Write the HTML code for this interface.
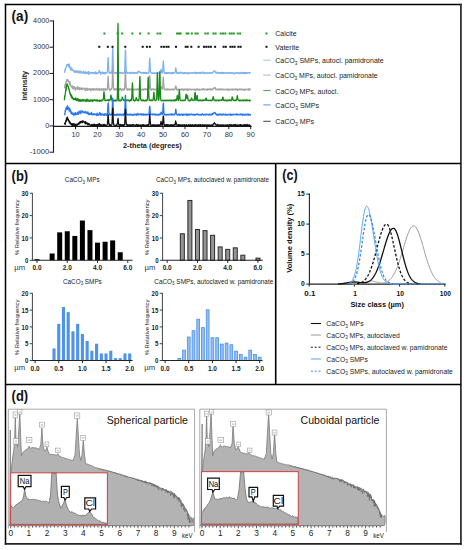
<!DOCTYPE html>
<html><head><meta charset="utf-8"><style>
html,body{margin:0;padding:0;background:#fff;width:470px;height:550px;overflow:hidden}
svg{display:block}
text{font-family:"Liberation Sans", sans-serif}
</style></head><body>
<svg width="470" height="550" viewBox="0 0 470 550">
<rect width="470" height="550" fill="#fff"/>
<line x1="4.8" y1="4.5" x2="461.8" y2="4.5" stroke="#000" stroke-width="1.4"/>
<line x1="5.5" y1="3.8" x2="5.5" y2="544.8" stroke="#000" stroke-width="1.5"/>
<line x1="460.9" y1="3.8" x2="460.9" y2="544.8" stroke="#333" stroke-width="1.8"/>
<line x1="4.8" y1="543.9" x2="461.8" y2="543.9" stroke="#222" stroke-width="1.8"/>
<line x1="5" y1="163.45" x2="461" y2="163.45" stroke="#000" stroke-width="1.4"/>
<line x1="5" y1="384.5" x2="461" y2="384.5" stroke="#000" stroke-width="1.5"/>
<line x1="275.7" y1="163" x2="275.7" y2="385" stroke="#000" stroke-width="1.6"/>
<text x="11.60" y="20.70" font-size="14.5" text-anchor="start" fill="#111" font-weight="bold" textLength="16.60" lengthAdjust="spacingAndGlyphs" >(a)</text>
<text x="11.60" y="180.80" font-size="14.5" text-anchor="start" fill="#111" font-weight="bold" textLength="16.60" lengthAdjust="spacingAndGlyphs" >(b)</text>
<text x="282.20" y="180.30" font-size="14.5" text-anchor="start" fill="#111" font-weight="bold" textLength="15.40" lengthAdjust="spacingAndGlyphs" >(c)</text>
<text x="11.60" y="400.60" font-size="14.5" text-anchor="start" fill="#111" font-weight="bold" textLength="16.60" lengthAdjust="spacingAndGlyphs" >(d)</text>
<line x1="53.5" y1="20.5" x2="53.5" y2="152.6" stroke="#1a1a1a" stroke-width="1.1"/>
<line x1="49.6" y1="20.95" x2="53.5" y2="20.95" stroke="#1a1a1a" stroke-width="1"/>
<text x="49.30" y="22.75" font-size="7.2" text-anchor="end" fill="#333" textLength="16.20" lengthAdjust="spacingAndGlyphs" >4000</text>
<line x1="49.6" y1="47.20" x2="53.5" y2="47.20" stroke="#1a1a1a" stroke-width="1"/>
<text x="49.30" y="49.00" font-size="7.2" text-anchor="end" fill="#333" textLength="16.20" lengthAdjust="spacingAndGlyphs" >3000</text>
<line x1="49.6" y1="73.45" x2="53.5" y2="73.45" stroke="#1a1a1a" stroke-width="1"/>
<text x="49.30" y="75.25" font-size="7.2" text-anchor="end" fill="#333" textLength="16.20" lengthAdjust="spacingAndGlyphs" >2000</text>
<line x1="49.6" y1="99.70" x2="53.5" y2="99.70" stroke="#1a1a1a" stroke-width="1"/>
<text x="49.30" y="101.50" font-size="7.2" text-anchor="end" fill="#333" textLength="16.20" lengthAdjust="spacingAndGlyphs" >1000</text>
<line x1="49.6" y1="125.95" x2="53.5" y2="125.95" stroke="#1a1a1a" stroke-width="1"/>
<text x="49.30" y="127.75" font-size="7.2" text-anchor="end" fill="#333" textLength="4.10" lengthAdjust="spacingAndGlyphs" >0</text>
<line x1="49.6" y1="152.20" x2="53.5" y2="152.20" stroke="#1a1a1a" stroke-width="1"/>
<text x="49.30" y="154.00" font-size="7.2" text-anchor="end" fill="#333" textLength="19.50" lengthAdjust="spacingAndGlyphs" >-1000</text>
<line x1="53.5" y1="126.3" x2="251.6" y2="126.3" stroke="#1a1a1a" stroke-width="1.3"/>
<line x1="75.50" y1="125.9" x2="75.50" y2="129.2" stroke="#1a1a1a" stroke-width="1"/>
<text x="75.50" y="136.80" font-size="7.2" text-anchor="middle" fill="#333" textLength="8.20" lengthAdjust="spacingAndGlyphs" >10</text>
<line x1="97.40" y1="125.9" x2="97.40" y2="129.2" stroke="#1a1a1a" stroke-width="1"/>
<text x="97.40" y="136.80" font-size="7.2" text-anchor="middle" fill="#333" textLength="8.20" lengthAdjust="spacingAndGlyphs" >20</text>
<line x1="119.30" y1="125.9" x2="119.30" y2="129.2" stroke="#1a1a1a" stroke-width="1"/>
<text x="119.30" y="136.80" font-size="7.2" text-anchor="middle" fill="#333" textLength="8.20" lengthAdjust="spacingAndGlyphs" >30</text>
<line x1="141.20" y1="125.9" x2="141.20" y2="129.2" stroke="#1a1a1a" stroke-width="1"/>
<text x="141.20" y="136.80" font-size="7.2" text-anchor="middle" fill="#333" textLength="8.20" lengthAdjust="spacingAndGlyphs" >40</text>
<line x1="163.10" y1="125.9" x2="163.10" y2="129.2" stroke="#1a1a1a" stroke-width="1"/>
<text x="163.10" y="136.80" font-size="7.2" text-anchor="middle" fill="#333" textLength="8.20" lengthAdjust="spacingAndGlyphs" >50</text>
<line x1="185.00" y1="125.9" x2="185.00" y2="129.2" stroke="#1a1a1a" stroke-width="1"/>
<text x="185.00" y="136.80" font-size="7.2" text-anchor="middle" fill="#333" textLength="8.20" lengthAdjust="spacingAndGlyphs" >60</text>
<line x1="206.90" y1="125.9" x2="206.90" y2="129.2" stroke="#1a1a1a" stroke-width="1"/>
<text x="206.90" y="136.80" font-size="7.2" text-anchor="middle" fill="#333" textLength="8.20" lengthAdjust="spacingAndGlyphs" >70</text>
<line x1="228.80" y1="125.9" x2="228.80" y2="129.2" stroke="#1a1a1a" stroke-width="1"/>
<text x="228.80" y="136.80" font-size="7.2" text-anchor="middle" fill="#333" textLength="8.20" lengthAdjust="spacingAndGlyphs" >80</text>
<line x1="250.70" y1="125.9" x2="250.70" y2="129.2" stroke="#1a1a1a" stroke-width="1"/>
<text x="250.70" y="136.80" font-size="7.2" text-anchor="middle" fill="#333" textLength="8.20" lengthAdjust="spacingAndGlyphs" >90</text>
<text x="27.40" y="85.60" font-size="7.3" text-anchor="middle" fill="#222" font-weight="bold" textLength="29.40" lengthAdjust="spacingAndGlyphs" transform="rotate(-90 27.40 85.60)" >Intensity</text>
<text x="152.40" y="147.70" font-size="7.3" text-anchor="middle" fill="#222" font-weight="bold" textLength="58.80" lengthAdjust="spacingAndGlyphs" >2-theta (degrees)</text>
<polyline points="64.44,72.24 64.64,72.35 64.83,71.44 65.03,69.37 65.23,70.85 65.43,69.73 65.62,68.07 65.82,68.34 66.02,67.38 66.21,66.62 66.41,65.79 66.61,65.81 66.81,64.38 67.00,64.82 67.20,64.54 67.40,65.53 67.59,65.09 67.79,64.88 67.99,64.56 68.19,65.15 68.38,65.53 68.58,65.46 68.78,67.00 68.97,66.95 69.17,64.01 69.37,64.95 69.57,66.64 69.76,66.68 69.96,67.47 70.16,67.73 70.35,69.56 70.55,67.15 70.75,68.01 70.94,70.23 71.14,69.34 71.34,69.59 71.54,68.88 71.73,68.19 71.93,69.85 72.13,70.01 72.32,69.14 72.52,69.75 72.72,70.40 72.92,69.87 73.11,70.67 73.31,70.95 73.51,71.03 73.70,70.73 73.90,71.66 74.10,71.98 74.30,71.63 74.49,70.85 74.69,72.07 74.89,71.22 75.08,72.29 75.28,70.91 75.48,72.40 75.68,71.76 75.87,70.91 76.07,71.62 76.27,71.91 76.46,72.09 76.66,71.22 76.86,71.16 77.05,72.10 77.25,71.65 77.45,72.16 77.65,72.54 77.84,70.89 78.04,72.22 78.24,72.90 78.43,71.88 78.63,71.54 78.83,72.62 79.03,72.30 79.22,72.74 79.42,71.93 79.62,71.19 79.81,72.12 80.01,71.91 80.21,72.73 80.41,72.37 80.60,71.20 80.80,71.50 81.00,72.86 81.19,72.75 81.39,71.92 81.59,72.35 81.79,72.65 81.98,72.68 82.18,72.95 82.38,72.58 82.57,72.38 82.77,72.30 82.97,73.13 83.16,71.11 83.36,72.43 83.56,72.55 83.76,71.68 83.95,72.76 84.15,72.19 84.35,73.11 84.54,72.54 84.74,73.03 84.94,73.37 85.14,72.89 85.33,72.16 85.53,71.80 85.73,73.73 85.92,72.65 86.12,72.33 86.32,72.83 86.52,72.64 86.71,73.25 86.91,72.80 87.11,72.80 87.30,72.40 87.50,73.08 87.70,72.24 87.90,73.20 88.09,73.69 88.29,72.00 88.49,71.49 88.68,73.21 88.88,74.27 89.08,72.33 89.28,72.21 89.47,73.22 89.67,72.45 89.87,72.64 90.06,72.73 90.26,73.20 90.46,72.71 90.65,73.08 90.85,72.84 91.05,72.49 91.25,72.78 91.44,72.45 91.64,72.95 91.84,72.37 92.03,72.39 92.23,73.71 92.43,72.94 92.63,72.94 92.82,73.23 93.02,72.76 93.22,72.86 93.41,73.19 93.61,73.12 93.81,72.40 94.01,73.40 94.20,72.69 94.40,72.46 94.60,72.54 94.79,72.79 94.99,73.79 95.19,72.41 95.39,73.07 95.58,71.95 95.78,72.99 95.98,73.43 96.17,72.88 96.37,72.69 96.57,73.11 96.76,73.33 96.96,73.31 97.16,73.94 97.36,73.10 97.55,72.72 97.75,72.94 97.95,72.96 98.14,73.04 98.34,72.96 98.54,72.96 98.74,71.83 98.93,72.47 99.13,71.15 99.33,70.47 99.52,71.47 99.72,72.39 99.92,72.63 100.12,72.86 100.31,72.52 100.51,74.29 100.71,73.40 100.90,72.49 101.10,72.65 101.30,73.04 101.50,72.31 101.69,73.07 101.89,72.80 102.09,73.54 102.28,73.42 102.48,71.81 102.68,73.02 102.87,72.29 103.07,73.48 103.27,73.07 103.47,73.24 103.66,72.54 103.86,73.79 104.06,73.87 104.25,72.54 104.45,73.16 104.65,72.71 104.85,72.99 105.04,72.46 105.24,73.79 105.44,72.59 105.63,72.87 105.83,73.21 106.03,72.73 106.23,72.90 106.42,72.76 106.62,72.94 106.82,72.50 107.01,72.72 107.21,72.42 107.41,71.01 107.61,67.99 107.80,62.89 108.00,58.86 108.20,57.64 108.39,61.24 108.59,66.18 108.79,70.11 108.99,71.69 109.18,73.04 109.38,72.51 109.58,72.70 109.77,73.14 109.97,73.16 110.17,72.84 110.36,72.19 110.56,73.17 110.76,73.10 110.96,72.44 111.15,73.30 111.35,72.71 111.55,72.47 111.74,72.56 111.94,70.94 112.14,67.06 112.34,59.10 112.53,52.36 112.73,47.77 112.93,51.06 113.12,59.96 113.32,66.84 113.52,71.14 113.72,72.39 113.91,72.89 114.11,73.08 114.31,72.71 114.50,73.26 114.70,72.82 114.90,72.67 115.10,73.03 115.29,73.17 115.49,72.91 115.69,72.67 115.88,73.23 116.08,72.34 116.28,72.61 116.47,73.01 116.67,72.49 116.87,73.01 117.07,72.98 117.26,73.33 117.46,72.66 117.66,72.77 117.85,73.12 118.05,72.09 118.25,74.14 118.45,72.74 118.64,72.73 118.84,73.32 119.04,72.99 119.23,72.35 119.43,73.23 119.63,73.31 119.83,72.84 120.02,72.90 120.22,73.18 120.42,72.67 120.61,73.16 120.81,73.07 121.01,72.76 121.21,72.50 121.40,72.92 121.60,72.69 121.80,73.36 121.99,73.05 122.19,73.28 122.39,73.05 122.58,73.09 122.78,72.72 122.98,73.24 123.18,73.63 123.37,72.89 123.57,72.79 123.77,72.94 123.96,72.83 124.16,72.72 124.36,72.83 124.56,71.84 124.75,69.83 124.95,63.67 125.15,55.86 125.34,50.07 125.54,50.04 125.74,57.13 125.94,64.24 126.13,69.47 126.33,71.97 126.53,72.78 126.72,72.49 126.92,72.99 127.12,72.43 127.32,73.48 127.51,72.97 127.71,72.78 127.91,72.69 128.10,72.87 128.30,72.92 128.50,72.65 128.70,72.69 128.89,72.94 129.09,72.82 129.29,73.32 129.48,73.38 129.68,73.01 129.88,73.16 130.07,72.55 130.27,73.21 130.47,72.99 130.67,73.16 130.86,73.54 131.06,72.24 131.26,73.09 131.45,72.63 131.65,73.20 131.85,72.56 132.05,72.84 132.24,73.07 132.44,73.20 132.64,73.02 132.83,72.74 133.03,72.82 133.23,73.29 133.43,73.00 133.62,72.45 133.82,73.28 134.02,73.14 134.21,73.29 134.41,72.89 134.61,73.27 134.81,72.65 135.00,73.19 135.20,72.84 135.40,73.22 135.59,73.33 135.79,72.76 135.99,72.98 136.18,73.00 136.38,73.37 136.58,73.20 136.78,72.55 136.97,73.05 137.17,73.08 137.37,73.43 137.56,72.07 137.76,72.28 137.96,72.70 138.16,71.63 138.35,71.48 138.55,71.86 138.75,71.89 138.94,71.29 139.14,71.69 139.34,71.64 139.54,72.23 139.73,71.93 139.93,72.45 140.13,72.05 140.32,72.45 140.52,72.63 140.72,73.14 140.92,73.04 141.11,72.68 141.31,73.17 141.51,73.22 141.70,72.95 141.90,72.91 142.10,72.94 142.29,72.46 142.49,73.06 142.69,73.07 142.89,72.73 143.08,73.23 143.28,72.57 143.48,72.83 143.67,72.85 143.87,73.62 144.07,72.50 144.27,73.18 144.46,73.29 144.66,73.12 144.86,73.37 145.05,72.69 145.25,72.29 145.45,73.24 145.65,72.63 145.84,72.90 146.04,72.63 146.24,73.33 146.43,73.27 146.63,72.78 146.83,73.28 147.03,73.04 147.22,72.96 147.42,73.02 147.62,72.94 147.81,73.19 148.01,73.10 148.21,72.89 148.41,73.30 148.60,72.74 148.80,72.68 149.00,71.56 149.19,69.03 149.39,63.75 149.59,59.90 149.78,58.17 149.98,61.10 150.18,65.93 150.38,70.28 150.57,72.12 150.77,72.46 150.97,72.62 151.16,72.83 151.36,72.79 151.56,73.33 151.76,73.42 151.95,73.26 152.15,73.11 152.35,72.87 152.54,73.02 152.74,73.27 152.94,73.65 153.14,73.28 153.33,72.91 153.53,73.01 153.73,72.85 153.92,72.76 154.12,72.94 154.32,73.06 154.52,73.55 154.71,73.02 154.91,73.41 155.11,73.53 155.30,73.02 155.50,73.48 155.70,73.22 155.89,72.87 156.09,73.08 156.29,73.01 156.49,72.93 156.68,72.94 156.88,73.04 157.08,73.13 157.27,72.73 157.47,73.00 157.67,72.54 157.87,73.08 158.06,73.19 158.26,73.05 158.46,73.09 158.65,73.18 158.85,72.80 159.05,72.93 159.25,73.15 159.44,73.30 159.64,73.12 159.84,73.76 160.03,72.95 160.23,73.17 160.43,72.90 160.63,71.71 160.82,70.37 161.02,69.32 161.22,69.66 161.41,70.81 161.61,71.72 161.81,72.51 162.00,72.72 162.20,73.06 162.40,71.98 162.60,71.64 162.79,69.11 162.99,64.86 163.19,62.46 163.38,60.80 163.58,63.62 163.78,67.57 163.98,71.26 164.17,72.12 164.37,73.06 164.57,73.15 164.76,73.07 164.96,72.61 165.16,72.82 165.36,73.49 165.55,72.62 165.75,72.76 165.95,72.95 166.14,73.24 166.34,73.07 166.54,73.22 166.74,72.69 166.93,73.28 167.13,73.17 167.33,72.53 167.52,73.45 167.72,73.67 167.92,72.77 168.12,73.02 168.31,73.41 168.51,72.57 168.71,72.42 168.90,72.62 169.10,72.83 169.30,72.83 169.49,73.18 169.69,73.08 169.89,72.64 170.09,73.17 170.28,73.55 170.48,73.35 170.68,73.29 170.87,73.01 171.07,73.29 171.27,72.72 171.47,73.22 171.66,72.97 171.86,73.33 172.06,73.14 172.25,72.68 172.45,73.04 172.65,73.35 172.85,72.67 173.04,72.84 173.24,72.78 173.44,72.57 173.63,73.28 173.83,73.38 174.03,73.23 174.23,73.07 174.42,72.98 174.62,73.05 174.82,72.69 175.01,72.86 175.21,72.10 175.41,70.61 175.60,68.58 175.80,68.02 176.00,68.68 176.20,70.86 176.39,71.85 176.59,72.06 176.79,73.02 176.98,73.53 177.18,73.20 177.38,73.25 177.58,73.01 177.77,72.43 177.97,72.48 178.17,72.64 178.36,72.96 178.56,73.09 178.76,73.20 178.96,72.90 179.15,73.28 179.35,72.92 179.55,72.80 179.74,73.25 179.94,72.74 180.14,72.21 180.34,72.69 180.53,73.03 180.73,72.11 180.93,72.90 181.12,72.90 181.32,72.59 181.52,72.57 181.71,72.87 181.91,72.84 182.11,73.36 182.31,73.11 182.50,72.55 182.70,72.75 182.90,73.20 183.09,73.55 183.29,73.11 183.49,73.09 183.69,73.53 183.88,72.99 184.08,72.91 184.28,72.59 184.47,72.85 184.67,73.63 184.87,72.59 185.07,73.00 185.26,72.60 185.46,73.04 185.66,73.25 185.85,72.93 186.05,73.21 186.25,73.21 186.45,73.13 186.64,73.49 186.84,73.22 187.04,72.91 187.23,72.81 187.43,72.76 187.63,73.14 187.83,72.91 188.02,73.78 188.22,73.53 188.42,72.94 188.61,72.91 188.81,73.48 189.01,72.46 189.20,72.87 189.40,73.27 189.60,72.74 189.80,72.86 189.99,72.90 190.19,73.19 190.39,73.04 190.58,73.11 190.78,73.17 190.98,73.01 191.18,73.32 191.37,72.79 191.57,72.59 191.77,72.49 191.96,72.54 192.16,72.84 192.36,73.29 192.56,73.05 192.75,72.83 192.95,72.69 193.15,72.85 193.34,72.88 193.54,72.84 193.74,72.59 193.94,72.86 194.13,73.29 194.33,72.38 194.53,72.93 194.72,72.40 194.92,73.05 195.12,72.79 195.31,72.41 195.51,73.03 195.71,73.52 195.91,73.03 196.10,73.33 196.30,72.98 196.50,72.39 196.69,73.14 196.89,72.88 197.09,72.58 197.29,73.22 197.48,73.08 197.68,72.85 197.88,73.25 198.07,72.75 198.27,73.18 198.47,72.73 198.67,73.15 198.86,72.69 199.06,73.42 199.26,73.07 199.45,73.41 199.65,72.77 199.85,72.86 200.05,73.24 200.24,72.22 200.44,72.70 200.64,73.29 200.83,73.13 201.03,73.28 201.23,72.91 201.42,73.16 201.62,72.79 201.82,72.61 202.02,72.52 202.21,72.84 202.41,72.84 202.61,72.82 202.80,71.99 203.00,72.43 203.20,72.85 203.40,73.08 203.59,72.84 203.79,72.75 203.99,72.35 204.18,73.57 204.38,72.69 204.58,73.48 204.78,73.44 204.97,73.08 205.17,72.84 205.37,73.04 205.56,72.67 205.76,73.07 205.96,73.00 206.16,73.15 206.35,73.27 206.55,73.49 206.75,72.89 206.94,73.30 207.14,72.78 207.34,72.75 207.54,72.83 207.73,72.72 207.93,73.28 208.13,73.26 208.32,73.36 208.52,72.99 208.72,73.08 208.91,72.84 209.11,72.67 209.31,73.13 209.51,73.08 209.70,72.69 209.90,73.17 210.10,72.51 210.29,72.95 210.49,72.82 210.69,72.85 210.89,72.69 211.08,73.27 211.28,73.16 211.48,73.32 211.67,73.02 211.87,72.60 212.07,72.82 212.27,72.54 212.46,72.93 212.66,73.02 212.86,72.62 213.05,72.15 213.25,71.98 213.45,71.87 213.65,71.14 213.84,71.34 214.04,71.17 214.24,70.86 214.43,70.89 214.63,71.15 214.83,71.04 215.02,71.28 215.22,72.00 215.42,72.11 215.62,72.77 215.81,72.22 216.01,72.16 216.21,73.05 216.40,73.14 216.60,72.71 216.80,72.54 217.00,72.96 217.19,72.49 217.39,72.89 217.59,72.37 217.78,72.92 217.98,72.39 218.18,72.92 218.38,73.42 218.57,72.92 218.77,73.21 218.97,72.81 219.16,72.74 219.36,72.57 219.56,73.28 219.76,72.97 219.95,73.45 220.15,72.66 220.35,72.93 220.54,73.01 220.74,73.39 220.94,73.50 221.13,72.80 221.33,72.67 221.53,72.50 221.73,73.36 221.92,72.96 222.12,72.80 222.32,72.97 222.51,72.27 222.71,72.50 222.91,73.25 223.11,73.10 223.30,73.03 223.50,72.70 223.70,73.15 223.89,73.49 224.09,72.64 224.29,72.99 224.49,72.86 224.68,73.09 224.88,72.99 225.08,72.94 225.27,72.74 225.47,72.98 225.67,72.81 225.87,72.94 226.06,72.97 226.26,73.17 226.46,72.82 226.65,72.89 226.85,73.29 227.05,72.92 227.25,72.91 227.44,73.23 227.64,73.06 227.84,73.01 228.03,73.05 228.23,72.64 228.43,73.11 228.62,73.36 228.82,73.15 229.02,72.55 229.22,73.07 229.41,72.73 229.61,72.92 229.81,73.02 230.00,72.65 230.20,73.36 230.40,72.97 230.60,73.21 230.79,73.17 230.99,73.37 231.19,73.32 231.38,72.57 231.58,73.00 231.78,72.39 231.98,72.86 232.17,73.19 232.37,73.25 232.57,73.35 232.76,72.88 232.96,73.08 233.16,73.02 233.36,73.35 233.55,73.44 233.75,72.89 233.95,74.05 234.14,72.99 234.34,72.89 234.54,73.16 234.73,73.20 234.93,73.14 235.13,72.81 235.33,73.41 235.52,73.01 235.72,73.42 235.92,73.38 236.11,72.64 236.31,72.72 236.51,72.71 236.71,73.06 236.90,73.01 237.10,73.07 237.30,72.77 237.49,73.11 237.69,73.39 237.89,72.62 238.09,72.94 238.28,73.06 238.48,72.96 238.68,72.94 238.87,73.49 239.07,73.36 239.27,73.23 239.47,72.78 239.66,73.63 239.86,73.10 240.06,72.83 240.25,72.90 240.45,72.86 240.65,73.59 240.84,73.05 241.04,73.01 241.24,72.39 241.44,73.20 241.63,72.70 241.83,72.68 242.03,73.17 242.22,72.75 242.42,73.23 242.62,73.31 242.82,72.49 243.01,72.96 243.21,72.55 243.41,72.98 243.60,73.25 243.80,72.61 244.00,73.50 244.20,72.91 244.39,72.66 244.59,72.96 244.79,73.22 244.98,72.61 245.18,73.00 245.38,72.61 245.58,73.33 245.77,73.04 245.97,72.88 246.17,73.29 246.36,72.63 246.56,72.88 246.76,73.51 246.96,72.96 247.15,73.38 247.35,73.05 247.55,72.80 247.74,72.93 247.94,73.02 248.14,72.88 248.33,72.76 248.53,72.77 248.73,72.58 248.93,73.03 249.12,73.10 249.32,73.20 249.52,72.49 249.71,73.22 249.91,72.99 250.11,72.59 250.31,73.02 250.50,73.22" fill="none" stroke="#80b2f2" stroke-width="1.3" stroke-linejoin="round"/>
<polyline points="64.44,88.41 64.64,87.29 64.83,86.90 65.03,84.26 65.23,87.81 65.43,86.35 65.62,84.03 65.82,84.23 66.02,82.87 66.21,81.25 66.41,82.05 66.61,80.28 66.81,79.96 67.00,79.42 67.20,80.62 67.40,80.15 67.59,80.85 67.79,79.90 67.99,80.75 68.19,80.01 68.38,81.84 68.58,81.50 68.78,81.91 68.97,82.29 69.17,81.32 69.37,83.28 69.57,84.75 69.76,81.80 69.96,82.08 70.16,82.63 70.35,85.03 70.55,84.74 70.75,85.88 70.94,85.88 71.14,85.73 71.34,86.07 71.54,85.94 71.73,87.06 71.93,85.60 72.13,86.40 72.32,87.15 72.52,88.61 72.72,86.63 72.92,86.52 73.11,87.06 73.31,88.42 73.51,87.54 73.70,88.88 73.90,86.38 74.10,88.85 74.30,88.83 74.49,86.92 74.69,88.21 74.89,89.08 75.08,88.22 75.28,88.96 75.48,90.04 75.68,88.43 75.87,88.02 76.07,87.66 76.27,88.76 76.46,88.13 76.66,88.16 76.86,88.23 77.05,88.80 77.25,87.54 77.45,87.21 77.65,86.56 77.84,89.25 78.04,88.44 78.24,89.49 78.43,88.40 78.63,87.89 78.83,88.79 79.03,88.41 79.22,87.59 79.42,87.87 79.62,89.76 79.81,88.78 80.01,88.84 80.21,88.38 80.41,88.11 80.60,89.23 80.80,88.56 81.00,88.14 81.19,88.58 81.39,88.08 81.59,88.85 81.79,89.50 81.98,88.20 82.18,89.74 82.38,88.36 82.57,88.93 82.77,88.30 82.97,88.73 83.16,88.92 83.36,88.63 83.56,88.48 83.76,88.52 83.95,88.45 84.15,87.99 84.35,88.85 84.54,89.29 84.74,89.63 84.94,89.48 85.14,90.63 85.33,89.31 85.53,88.84 85.73,90.30 85.92,88.51 86.12,89.77 86.32,88.61 86.52,89.42 86.71,88.02 86.91,89.78 87.11,89.15 87.30,88.68 87.50,90.28 87.70,89.74 87.90,89.32 88.09,88.87 88.29,89.29 88.49,89.23 88.68,89.76 88.88,89.82 89.08,88.97 89.28,89.05 89.47,89.07 89.67,88.61 89.87,89.05 90.06,89.34 90.26,89.80 90.46,90.16 90.65,88.96 90.85,89.73 91.05,89.18 91.25,90.59 91.44,89.41 91.64,89.72 91.84,88.93 92.03,89.00 92.23,89.56 92.43,89.25 92.63,89.65 92.82,88.61 93.02,89.82 93.22,88.98 93.41,90.40 93.61,89.32 93.81,90.06 94.01,88.73 94.20,89.71 94.40,89.01 94.60,89.23 94.79,89.50 94.99,89.32 95.19,89.62 95.39,89.88 95.58,89.83 95.78,89.44 95.98,88.79 96.17,89.08 96.37,89.39 96.57,88.41 96.76,89.88 96.96,89.37 97.16,89.37 97.36,89.97 97.55,89.83 97.75,89.61 97.95,89.00 98.14,89.65 98.34,89.67 98.54,89.06 98.74,90.01 98.93,89.75 99.13,88.53 99.33,89.56 99.52,88.88 99.72,90.05 99.92,89.89 100.12,88.96 100.31,89.07 100.51,89.55 100.71,89.38 100.90,90.23 101.10,89.85 101.30,89.37 101.50,89.77 101.69,88.54 101.89,89.65 102.09,89.91 102.28,89.42 102.48,89.17 102.68,89.76 102.87,90.41 103.07,89.59 103.27,88.98 103.47,90.17 103.66,88.63 103.86,89.73 104.06,89.23 104.25,89.93 104.45,89.11 104.65,90.10 104.85,89.64 105.04,88.72 105.24,88.61 105.44,89.36 105.63,90.08 105.83,89.56 106.03,89.53 106.23,89.39 106.42,89.83 106.62,89.67 106.82,89.61 107.01,88.98 107.21,89.61 107.41,88.55 107.61,84.71 107.80,82.13 108.00,77.70 108.20,76.51 108.39,78.86 108.59,84.29 108.79,87.50 108.99,88.58 109.18,88.59 109.38,89.96 109.58,89.25 109.77,89.30 109.97,90.71 110.17,90.40 110.36,89.90 110.56,89.31 110.76,89.77 110.96,88.54 111.15,89.54 111.35,89.17 111.55,88.89 111.74,88.46 111.94,88.13 112.14,84.72 112.34,78.94 112.53,72.78 112.73,69.15 112.93,71.92 113.12,78.15 113.32,84.55 113.52,88.22 113.72,89.06 113.91,89.69 114.11,89.01 114.31,89.31 114.50,89.19 114.70,88.99 114.90,90.25 115.10,89.84 115.29,89.19 115.49,89.19 115.69,89.48 115.88,88.92 116.08,89.67 116.28,88.98 116.47,89.35 116.67,89.09 116.87,89.31 117.07,88.97 117.26,88.88 117.46,89.12 117.66,89.23 117.85,89.38 118.05,89.53 118.25,90.10 118.45,89.82 118.64,89.40 118.84,89.78 119.04,89.23 119.23,90.06 119.43,89.71 119.63,88.98 119.83,89.79 120.02,89.81 120.22,88.47 120.42,89.21 120.61,89.32 120.81,88.76 121.01,89.09 121.21,89.14 121.40,89.69 121.60,89.61 121.80,90.50 121.99,89.35 122.19,89.94 122.39,89.53 122.58,89.60 122.78,89.06 122.98,88.78 123.18,89.21 123.37,89.79 123.57,90.09 123.77,89.73 123.96,89.68 124.16,89.16 124.36,89.90 124.56,89.19 124.75,86.47 124.95,82.29 125.15,75.83 125.34,72.11 125.54,72.03 125.74,76.85 125.94,83.07 126.13,87.16 126.33,88.66 126.53,88.91 126.72,89.01 126.92,88.86 127.12,89.67 127.32,90.31 127.51,88.88 127.71,89.55 127.91,89.65 128.10,89.14 128.30,89.57 128.50,89.10 128.70,89.93 128.89,89.29 129.09,89.54 129.29,89.75 129.48,89.35 129.68,88.86 129.88,89.31 130.07,89.77 130.27,89.47 130.47,89.58 130.67,89.12 130.86,89.55 131.06,89.76 131.26,89.51 131.45,90.18 131.65,89.43 131.85,89.13 132.05,88.93 132.24,89.91 132.44,89.48 132.64,89.86 132.83,89.66 133.03,90.07 133.23,89.94 133.43,89.37 133.62,89.60 133.82,89.88 134.02,89.07 134.21,90.01 134.41,89.92 134.61,89.84 134.81,89.43 135.00,89.60 135.20,89.11 135.40,89.52 135.59,89.30 135.79,89.53 135.99,89.33 136.18,89.60 136.38,89.91 136.58,89.05 136.78,89.82 136.97,88.82 137.17,88.76 137.37,89.46 137.56,89.50 137.76,89.65 137.96,88.94 138.16,89.48 138.35,89.54 138.55,89.93 138.75,89.46 138.94,89.68 139.14,89.17 139.34,89.44 139.54,89.35 139.73,89.74 139.93,89.17 140.13,89.22 140.32,89.69 140.52,90.10 140.72,89.63 140.92,89.60 141.11,89.38 141.31,89.87 141.51,89.68 141.70,90.08 141.90,89.61 142.10,89.18 142.29,89.31 142.49,89.17 142.69,89.08 142.89,89.92 143.08,89.77 143.28,89.09 143.48,90.09 143.67,89.58 143.87,89.18 144.07,89.63 144.27,89.48 144.46,89.24 144.66,88.86 144.86,89.51 145.05,89.60 145.25,88.65 145.45,89.68 145.65,89.70 145.84,89.34 146.04,89.54 146.24,89.41 146.43,89.22 146.63,89.38 146.83,89.94 147.03,89.02 147.22,89.58 147.42,89.56 147.62,89.27 147.81,89.36 148.01,89.04 148.21,89.22 148.41,89.50 148.60,89.54 148.80,88.84 149.00,89.09 149.19,85.33 149.39,81.35 149.59,77.16 149.78,75.97 149.98,79.26 150.18,83.16 150.38,87.32 150.57,89.07 150.77,88.98 150.97,89.81 151.16,89.29 151.36,90.39 151.56,89.38 151.76,89.20 151.95,88.88 152.15,89.08 152.35,89.31 152.54,89.18 152.74,89.10 152.94,89.28 153.14,89.43 153.33,89.97 153.53,88.95 153.73,89.32 153.92,89.19 154.12,89.01 154.32,89.09 154.52,89.21 154.71,89.73 154.91,89.44 155.11,89.33 155.30,89.70 155.50,89.59 155.70,89.43 155.89,89.62 156.09,89.24 156.29,89.70 156.49,89.65 156.68,89.37 156.88,89.11 157.08,89.98 157.27,89.53 157.47,90.47 157.67,89.29 157.87,89.77 158.06,89.36 158.26,89.58 158.46,89.76 158.65,89.25 158.85,89.47 159.05,89.55 159.25,89.54 159.44,89.69 159.64,89.82 159.84,89.76 160.03,89.56 160.23,89.28 160.43,88.74 160.63,88.20 160.82,87.29 161.02,86.86 161.22,86.48 161.41,86.95 161.61,88.53 161.81,88.79 162.00,89.12 162.20,89.33 162.40,89.26 162.60,87.31 162.79,85.25 162.99,81.82 163.19,78.20 163.38,77.44 163.58,80.27 163.78,84.86 163.98,87.29 164.17,89.11 164.37,89.62 164.57,89.34 164.76,89.64 164.96,89.36 165.16,89.31 165.36,89.15 165.55,89.77 165.75,89.38 165.95,89.33 166.14,89.15 166.34,90.07 166.54,89.73 166.74,89.46 166.93,89.28 167.13,89.02 167.33,89.59 167.52,89.59 167.72,89.06 167.92,89.86 168.12,89.74 168.31,89.20 168.51,89.33 168.71,89.37 168.90,89.55 169.10,89.45 169.30,88.99 169.49,89.96 169.69,89.60 169.89,89.89 170.09,89.89 170.28,89.44 170.48,89.61 170.68,89.73 170.87,89.74 171.07,89.45 171.27,89.31 171.47,89.51 171.66,89.25 171.86,89.33 172.06,88.87 172.25,89.53 172.45,89.18 172.65,89.33 172.85,89.48 173.04,89.60 173.24,90.08 173.44,89.56 173.63,89.06 173.83,89.54 174.03,89.32 174.23,89.62 174.42,89.29 174.62,89.27 174.82,89.27 175.01,88.99 175.21,87.97 175.41,87.17 175.60,86.08 175.80,85.87 176.00,86.00 176.20,87.26 176.39,88.72 176.59,89.35 176.79,89.92 176.98,89.67 177.18,89.49 177.38,89.91 177.58,89.97 177.77,89.35 177.97,89.55 178.17,88.98 178.36,89.39 178.56,89.23 178.76,89.43 178.96,89.35 179.15,89.45 179.35,89.47 179.55,89.65 179.74,89.57 179.94,89.33 180.14,89.11 180.34,89.88 180.53,89.93 180.73,89.36 180.93,89.67 181.12,89.03 181.32,89.02 181.52,89.42 181.71,89.95 181.91,89.18 182.11,89.24 182.31,89.99 182.50,88.92 182.70,89.70 182.90,89.65 183.09,89.44 183.29,89.56 183.49,90.30 183.69,89.16 183.88,89.40 184.08,89.43 184.28,89.29 184.47,89.09 184.67,89.99 184.87,89.57 185.07,88.96 185.26,89.29 185.46,89.62 185.66,89.62 185.85,89.06 186.05,89.47 186.25,89.58 186.45,89.62 186.64,89.62 186.84,88.95 187.04,90.06 187.23,89.56 187.43,90.05 187.63,90.37 187.83,89.45 188.02,89.12 188.22,89.76 188.42,89.45 188.61,89.36 188.81,89.19 189.01,90.01 189.20,89.37 189.40,89.07 189.60,89.36 189.80,89.15 189.99,89.55 190.19,89.37 190.39,89.18 190.58,89.68 190.78,89.30 190.98,89.72 191.18,89.88 191.37,89.39 191.57,89.30 191.77,89.56 191.96,89.77 192.16,89.50 192.36,89.54 192.56,89.49 192.75,89.59 192.95,89.69 193.15,89.29 193.34,89.35 193.54,89.51 193.74,89.30 193.94,89.54 194.13,89.66 194.33,89.49 194.53,89.32 194.72,89.26 194.92,90.03 195.12,89.77 195.31,89.16 195.51,89.25 195.71,90.07 195.91,89.96 196.10,89.54 196.30,89.85 196.50,89.05 196.69,89.50 196.89,89.72 197.09,88.94 197.29,89.26 197.48,89.74 197.68,89.84 197.88,89.32 198.07,89.59 198.27,89.98 198.47,89.38 198.67,89.10 198.86,89.48 199.06,89.38 199.26,89.89 199.45,89.55 199.65,89.26 199.85,90.22 200.05,89.35 200.24,89.64 200.44,89.70 200.64,89.74 200.83,89.55 201.03,89.68 201.23,89.48 201.42,89.07 201.62,89.43 201.82,89.44 202.02,89.45 202.21,89.54 202.41,89.31 202.61,89.90 202.80,89.97 203.00,88.84 203.20,89.50 203.40,89.29 203.59,88.72 203.79,89.62 203.99,89.31 204.18,89.39 204.38,89.30 204.58,89.83 204.78,89.87 204.97,89.58 205.17,89.71 205.37,89.47 205.56,89.54 205.76,89.28 205.96,89.51 206.16,89.29 206.35,89.61 206.55,89.75 206.75,89.59 206.94,89.86 207.14,90.31 207.34,88.87 207.54,89.50 207.73,89.33 207.93,89.36 208.13,89.09 208.32,89.52 208.52,89.42 208.72,89.31 208.91,89.42 209.11,89.32 209.31,88.80 209.51,89.82 209.70,89.41 209.90,89.21 210.10,89.59 210.29,89.30 210.49,88.85 210.69,89.77 210.89,89.00 211.08,89.43 211.28,89.53 211.48,89.90 211.67,89.84 211.87,89.52 212.07,89.21 212.27,89.27 212.46,89.65 212.66,89.75 212.86,89.24 213.05,88.70 213.25,88.98 213.45,88.32 213.65,88.07 213.84,87.89 214.04,87.98 214.24,87.80 214.43,88.01 214.63,88.18 214.83,88.11 215.02,87.47 215.22,87.90 215.42,88.70 215.62,88.85 215.81,89.70 216.01,89.19 216.21,89.27 216.40,89.67 216.60,89.75 216.80,89.39 217.00,89.62 217.19,89.15 217.39,89.21 217.59,89.87 217.78,89.08 217.98,89.78 218.18,89.70 218.38,89.73 218.57,89.77 218.77,89.67 218.97,88.86 219.16,89.20 219.36,89.32 219.56,89.77 219.76,89.16 219.95,89.29 220.15,89.39 220.35,89.89 220.54,89.07 220.74,89.09 220.94,89.69 221.13,88.86 221.33,89.60 221.53,89.36 221.73,89.03 221.92,89.37 222.12,89.20 222.32,89.55 222.51,89.61 222.71,89.95 222.91,89.50 223.11,89.53 223.30,89.33 223.50,89.49 223.70,89.81 223.89,88.92 224.09,89.70 224.29,89.34 224.49,89.52 224.68,89.60 224.88,89.75 225.08,89.57 225.27,89.38 225.47,89.59 225.67,89.50 225.87,89.44 226.06,89.56 226.26,89.76 226.46,89.54 226.65,89.55 226.85,89.12 227.05,89.46 227.25,88.94 227.44,89.72 227.64,89.22 227.84,89.89 228.03,90.39 228.23,89.38 228.43,89.90 228.62,89.62 228.82,89.33 229.02,89.25 229.22,89.67 229.41,89.92 229.61,89.61 229.81,89.05 230.00,89.19 230.20,89.43 230.40,89.91 230.60,89.58 230.79,89.60 230.99,89.86 231.19,89.44 231.38,89.47 231.58,89.45 231.78,88.97 231.98,89.64 232.17,89.62 232.37,89.79 232.57,89.14 232.76,89.26 232.96,89.78 233.16,89.60 233.36,89.91 233.55,89.24 233.75,89.56 233.95,89.30 234.14,89.59 234.34,89.36 234.54,89.66 234.73,89.82 234.93,89.70 235.13,88.96 235.33,89.78 235.52,89.63 235.72,89.19 235.92,89.24 236.11,89.50 236.31,89.67 236.51,89.37 236.71,89.02 236.90,89.58 237.10,89.55 237.30,90.23 237.49,89.12 237.69,90.25 237.89,90.02 238.09,89.59 238.28,90.00 238.48,89.53 238.68,89.79 238.87,89.28 239.07,89.52 239.27,89.20 239.47,89.03 239.66,89.42 239.86,89.30 240.06,89.67 240.25,89.88 240.45,89.45 240.65,89.52 240.84,89.56 241.04,89.00 241.24,89.58 241.44,89.50 241.63,89.49 241.83,89.17 242.03,88.91 242.22,89.43 242.42,89.59 242.62,89.90 242.82,89.84 243.01,89.93 243.21,89.61 243.41,89.84 243.60,89.44 243.80,89.69 244.00,89.78 244.20,90.30 244.39,89.57 244.59,89.12 244.79,89.91 244.98,89.26 245.18,89.48 245.38,89.41 245.58,89.23 245.77,89.90 245.97,89.68 246.17,89.32 246.36,89.52 246.56,89.37 246.76,89.68 246.96,89.39 247.15,89.27 247.35,89.31 247.55,89.37 247.74,89.59 247.94,89.23 248.14,89.47 248.33,89.63 248.53,90.20 248.73,89.76 248.93,88.61 249.12,89.35 249.32,89.38 249.52,89.60 249.71,89.97 249.91,89.72 250.11,88.81 250.31,89.59 250.50,89.53" fill="none" stroke="#a3a3a3" stroke-width="1.3" stroke-linejoin="round"/>
<polyline points="64.44,100.32 64.64,95.78 64.83,97.42 65.03,95.57 65.23,94.45 65.43,93.28 65.62,90.33 65.82,90.26 66.02,88.25 66.21,90.23 66.41,86.56 66.61,85.20 66.81,84.71 67.00,84.25 67.20,83.99 67.40,84.66 67.59,85.58 67.79,85.37 67.99,86.73 68.19,86.36 68.38,87.11 68.58,88.90 68.78,88.82 68.97,88.75 69.17,89.72 69.37,90.99 69.57,92.74 69.76,91.84 69.96,92.55 70.16,94.11 70.35,93.37 70.55,94.38 70.75,95.76 70.94,96.04 71.14,96.14 71.34,96.95 71.54,94.85 71.73,97.87 71.93,96.77 72.13,96.53 72.32,98.09 72.52,98.57 72.72,97.95 72.92,97.67 73.11,98.55 73.31,98.61 73.51,99.69 73.70,99.34 73.90,99.05 74.10,99.74 74.30,98.94 74.49,98.55 74.69,99.60 74.89,99.66 75.08,99.21 75.28,98.91 75.48,99.61 75.68,97.94 75.87,100.02 76.07,99.95 76.27,98.67 76.46,99.79 76.66,99.20 76.86,100.31 77.05,98.64 77.25,99.38 77.45,100.41 77.65,100.72 77.84,98.75 78.04,99.79 78.24,100.32 78.43,99.79 78.63,101.12 78.83,99.50 79.03,100.43 79.22,99.63 79.42,101.08 79.62,100.27 79.81,100.08 80.01,99.32 80.21,101.29 80.41,100.76 80.60,100.77 80.80,100.99 81.00,100.55 81.19,100.01 81.39,99.92 81.59,99.93 81.79,101.14 81.98,99.58 82.18,100.06 82.38,100.21 82.57,100.51 82.77,100.70 82.97,99.72 83.16,99.46 83.36,100.39 83.56,101.04 83.76,100.80 83.95,100.51 84.15,100.23 84.35,100.55 84.54,100.27 84.74,100.82 84.94,99.99 85.14,100.47 85.33,100.34 85.53,100.68 85.73,100.51 85.92,101.70 86.12,101.16 86.32,101.16 86.52,99.37 86.71,100.23 86.91,100.10 87.11,100.66 87.30,99.27 87.50,100.98 87.70,100.92 87.90,99.76 88.09,99.92 88.29,100.01 88.49,100.42 88.68,100.71 88.88,101.38 89.08,100.31 89.28,100.77 89.47,100.47 89.67,101.23 89.87,100.75 90.06,101.04 90.26,99.89 90.46,100.31 90.65,100.02 90.85,101.10 91.05,100.70 91.25,100.26 91.44,100.19 91.64,100.62 91.84,100.08 92.03,99.98 92.23,100.62 92.43,101.51 92.63,100.29 92.82,100.15 93.02,99.88 93.22,99.81 93.41,100.63 93.61,100.78 93.81,100.40 94.01,100.55 94.20,100.45 94.40,100.46 94.60,99.74 94.79,100.20 94.99,100.45 95.19,100.06 95.39,100.20 95.58,100.05 95.78,100.26 95.98,100.76 96.17,100.23 96.37,100.34 96.57,100.74 96.76,100.67 96.96,101.11 97.16,99.53 97.36,100.76 97.55,100.20 97.75,100.46 97.95,100.75 98.14,100.84 98.34,100.83 98.54,100.46 98.74,101.06 98.93,100.29 99.13,100.34 99.33,100.72 99.52,100.18 99.72,101.27 99.92,100.81 100.12,101.27 100.31,100.39 100.51,100.25 100.71,100.47 100.90,100.69 101.10,100.17 101.30,100.55 101.50,100.39 101.69,101.03 101.89,100.14 102.09,100.81 102.28,100.15 102.48,100.03 102.68,100.12 102.87,99.88 103.07,100.12 103.27,99.58 103.47,97.26 103.66,94.50 103.86,92.45 104.06,91.78 104.25,94.00 104.45,96.80 104.65,98.42 104.85,100.29 105.04,99.66 105.24,100.63 105.44,100.39 105.63,100.82 105.83,100.38 106.03,100.10 106.23,100.53 106.42,100.19 106.62,100.33 106.82,100.42 107.01,100.35 107.21,100.33 107.41,100.10 107.61,100.33 107.80,99.63 108.00,100.34 108.20,99.97 108.39,100.80 108.59,100.85 108.79,99.71 108.99,100.45 109.18,100.36 109.38,100.03 109.58,100.59 109.77,100.22 109.97,99.69 110.17,99.93 110.36,99.16 110.56,97.72 110.76,95.45 110.96,95.12 111.15,95.80 111.35,96.88 111.55,98.70 111.74,99.87 111.94,100.08 112.14,100.97 112.34,100.47 112.53,100.06 112.73,100.13 112.93,100.38 113.12,101.18 113.32,100.34 113.52,100.44 113.72,100.57 113.91,100.39 114.11,101.16 114.31,100.22 114.50,100.65 114.70,100.45 114.90,100.61 115.10,100.01 115.29,100.99 115.49,100.36 115.69,100.41 115.88,100.09 116.08,100.16 116.28,100.59 116.47,100.72 116.67,100.65 116.87,100.79 117.07,100.56 117.26,99.37 117.46,92.62 117.66,67.96 117.85,31.06 118.05,23.45 118.25,55.75 118.45,86.68 118.64,98.07 118.84,100.44 119.04,101.00 119.23,100.33 119.43,100.37 119.63,100.36 119.83,100.79 120.02,99.82 120.22,100.52 120.42,100.78 120.61,100.14 120.81,100.87 121.01,100.57 121.21,100.21 121.40,100.38 121.60,99.60 121.80,99.29 121.99,98.98 122.19,97.03 122.39,97.48 122.58,97.50 122.78,98.98 122.98,99.66 123.18,99.47 123.37,100.17 123.57,100.45 123.77,100.04 123.96,99.99 124.16,100.51 124.36,100.20 124.56,99.88 124.75,100.19 124.95,100.66 125.15,100.26 125.34,100.68 125.54,100.86 125.74,100.41 125.94,100.06 126.13,100.01 126.33,100.39 126.53,100.67 126.72,100.48 126.92,100.56 127.12,100.27 127.32,100.49 127.51,100.26 127.71,100.30 127.91,100.01 128.10,99.93 128.30,100.26 128.50,100.07 128.70,100.12 128.89,100.60 129.09,100.37 129.29,101.26 129.48,100.67 129.68,100.21 129.88,100.63 130.07,100.50 130.27,100.20 130.47,100.72 130.67,100.17 130.86,99.50 131.06,100.62 131.26,100.16 131.45,100.50 131.65,98.82 131.85,95.84 132.05,91.56 132.24,85.15 132.44,82.96 132.64,85.88 132.83,91.14 133.03,96.16 133.23,99.04 133.43,100.31 133.62,100.11 133.82,100.57 134.02,100.57 134.21,101.07 134.41,100.30 134.61,100.14 134.81,100.61 135.00,100.29 135.20,100.47 135.40,100.39 135.59,100.53 135.79,99.61 135.99,99.05 136.18,97.54 136.38,97.65 136.58,98.70 136.78,98.88 136.97,99.60 137.17,99.86 137.37,100.52 137.56,100.44 137.76,100.06 137.96,100.59 138.16,100.47 138.35,100.61 138.55,100.20 138.75,100.77 138.94,99.87 139.14,97.86 139.34,93.17 139.54,85.77 139.73,78.83 139.93,76.51 140.13,81.75 140.32,89.57 140.52,96.13 140.72,99.20 140.92,100.06 141.11,99.82 141.31,100.48 141.51,100.62 141.70,100.45 141.90,100.55 142.10,100.27 142.29,100.30 142.49,100.14 142.69,100.78 142.89,100.44 143.08,100.26 143.28,100.03 143.48,100.36 143.67,100.80 143.87,100.53 144.07,100.20 144.27,100.79 144.46,100.79 144.66,100.67 144.86,100.62 145.05,100.72 145.25,100.55 145.45,100.61 145.65,100.19 145.84,100.81 146.04,100.46 146.24,100.95 146.43,99.85 146.63,100.59 146.83,100.66 147.03,100.23 147.22,100.07 147.42,98.73 147.62,94.90 147.81,87.77 148.01,80.30 148.21,77.17 148.41,80.68 148.60,87.95 148.80,94.76 149.00,98.58 149.19,100.23 149.39,100.04 149.59,100.03 149.78,100.43 149.98,100.10 150.18,100.24 150.38,100.42 150.57,100.53 150.77,100.11 150.97,100.61 151.16,99.93 151.36,100.55 151.56,99.98 151.76,100.06 151.95,100.57 152.15,100.29 152.35,100.19 152.54,100.28 152.74,100.49 152.94,100.20 153.14,99.66 153.33,98.54 153.53,95.66 153.73,93.21 153.92,92.28 154.12,94.13 154.32,96.71 154.52,99.01 154.71,99.84 154.91,100.23 155.11,100.60 155.30,100.29 155.50,100.62 155.70,100.59 155.89,100.21 156.09,100.35 156.29,100.19 156.49,99.96 156.68,97.74 156.88,91.28 157.08,82.36 157.27,73.70 157.47,72.94 157.67,79.26 157.87,88.29 158.06,95.78 158.26,98.55 158.46,100.02 158.65,100.27 158.85,99.41 159.05,97.97 159.25,92.93 159.44,83.55 159.64,74.44 159.84,71.61 160.03,76.54 160.23,85.76 160.43,94.05 160.63,98.37 160.82,99.90 161.02,100.54 161.22,100.49 161.41,100.86 161.61,100.76 161.81,100.58 162.00,100.68 162.20,100.74 162.40,100.58 162.60,100.08 162.79,100.62 162.99,100.42 163.19,100.82 163.38,100.42 163.58,100.54 163.78,100.49 163.98,100.83 164.17,100.45 164.37,100.33 164.57,100.48 164.76,100.29 164.96,100.44 165.16,100.40 165.36,100.47 165.55,100.90 165.75,100.30 165.95,100.41 166.14,100.35 166.34,100.57 166.54,100.10 166.74,100.22 166.93,100.39 167.13,100.54 167.33,100.39 167.52,100.27 167.72,100.18 167.92,100.53 168.12,100.77 168.31,100.48 168.51,100.45 168.71,100.51 168.90,100.16 169.10,100.32 169.30,100.33 169.49,100.48 169.69,100.39 169.89,100.09 170.09,100.69 170.28,100.83 170.48,100.33 170.68,100.50 170.87,100.47 171.07,100.60 171.27,100.02 171.47,100.81 171.66,100.28 171.86,100.72 172.06,100.42 172.25,100.30 172.45,100.36 172.65,100.63 172.85,100.18 173.04,100.30 173.24,100.28 173.44,99.96 173.63,100.73 173.83,100.55 174.03,100.39 174.23,100.70 174.42,100.16 174.62,100.38 174.82,100.84 175.01,100.65 175.21,99.84 175.41,99.55 175.60,100.14 175.80,100.67 176.00,100.28 176.20,100.32 176.39,100.42 176.59,99.65 176.79,98.98 176.98,97.57 177.18,95.97 177.38,95.54 177.58,96.30 177.77,98.24 177.97,99.32 178.17,100.38 178.36,100.69 178.56,99.05 178.76,96.60 178.96,93.62 179.15,90.50 179.35,89.75 179.55,91.99 179.74,95.17 179.94,98.07 180.14,100.06 180.34,99.98 180.53,100.65 180.73,100.34 180.93,100.59 181.12,100.58 181.32,100.60 181.52,100.61 181.71,100.15 181.91,100.47 182.11,100.40 182.31,100.48 182.50,100.71 182.70,100.33 182.90,100.22 183.09,100.22 183.29,100.32 183.49,100.59 183.69,100.20 183.88,100.69 184.08,100.47 184.28,100.34 184.47,100.07 184.67,100.46 184.87,100.56 185.07,99.86 185.26,100.28 185.46,99.46 185.66,97.28 185.85,95.00 186.05,94.06 186.25,94.33 186.45,95.82 186.64,97.87 186.84,98.29 187.04,97.33 187.23,95.36 187.43,95.59 187.63,96.13 187.83,97.97 188.02,99.28 188.22,100.27 188.42,100.25 188.61,100.19 188.81,100.53 189.01,100.75 189.20,100.32 189.40,100.74 189.60,100.47 189.80,100.27 189.99,100.78 190.19,100.19 190.39,100.65 190.58,100.23 190.78,100.31 190.98,99.49 191.18,98.86 191.37,98.53 191.57,97.95 191.77,98.28 191.96,98.96 192.16,99.91 192.36,99.85 192.56,100.07 192.75,100.35 192.95,100.19 193.15,100.23 193.34,100.38 193.54,100.37 193.74,100.34 193.94,100.77 194.13,100.44 194.33,99.87 194.53,98.03 194.72,95.42 194.92,92.77 195.12,92.38 195.31,93.56 195.51,96.59 195.71,99.04 195.91,100.30 196.10,100.40 196.30,99.65 196.50,99.05 196.69,97.17 196.89,96.06 197.09,95.41 197.29,96.67 197.48,98.75 197.68,99.66 197.88,100.68 198.07,100.38 198.27,100.31 198.47,100.73 198.67,100.83 198.86,100.26 199.06,100.42 199.26,100.04 199.45,100.35 199.65,100.62 199.85,100.38 200.05,100.26 200.24,100.05 200.44,100.49 200.64,100.60 200.83,100.55 201.03,100.46 201.23,100.08 201.42,100.84 201.62,100.39 201.82,100.36 202.02,100.58 202.21,99.86 202.41,100.38 202.61,100.37 202.80,100.49 203.00,100.73 203.20,100.52 203.40,99.95 203.59,100.32 203.79,100.45 203.99,100.44 204.18,100.08 204.38,99.99 204.58,100.54 204.78,100.48 204.97,100.37 205.17,99.84 205.37,100.41 205.56,98.62 205.76,98.42 205.96,98.46 206.16,98.03 206.35,98.85 206.55,99.30 206.75,100.44 206.94,100.00 207.14,100.45 207.34,100.43 207.54,100.14 207.73,100.62 207.93,100.05 208.13,100.23 208.32,100.39 208.52,100.30 208.72,100.52 208.91,100.63 209.11,100.33 209.31,100.27 209.51,100.27 209.70,100.31 209.90,100.60 210.10,100.35 210.29,100.50 210.49,100.38 210.69,100.19 210.89,100.61 211.08,100.14 211.28,100.40 211.48,100.77 211.67,100.13 211.87,100.38 212.07,99.99 212.27,100.20 212.46,99.71 212.66,99.35 212.86,98.14 213.05,97.02 213.25,96.79 213.45,97.06 213.65,98.44 213.84,99.42 214.04,100.02 214.24,100.12 214.43,99.94 214.63,100.42 214.83,100.80 215.02,100.52 215.22,100.27 215.42,100.81 215.62,100.29 215.81,100.25 216.01,100.10 216.21,100.16 216.40,100.34 216.60,100.89 216.80,100.35 217.00,100.15 217.19,100.25 217.39,100.35 217.59,99.98 217.78,100.43 217.98,100.57 218.18,100.48 218.38,100.55 218.57,100.08 218.77,99.98 218.97,100.72 219.16,100.67 219.36,100.02 219.56,100.45 219.76,100.41 219.95,100.53 220.15,100.45 220.35,100.28 220.54,100.45 220.74,100.44 220.94,100.39 221.13,99.94 221.33,99.66 221.53,100.20 221.73,99.98 221.92,100.38 222.12,100.26 222.32,99.53 222.51,98.32 222.71,97.33 222.91,97.19 223.11,97.34 223.30,98.90 223.50,99.82 223.70,100.22 223.89,100.70 224.09,100.21 224.29,100.63 224.49,100.17 224.68,100.21 224.88,100.14 225.08,100.51 225.27,100.17 225.47,100.41 225.67,100.12 225.87,100.66 226.06,100.85 226.26,100.46 226.46,100.80 226.65,100.54 226.85,100.93 227.05,100.42 227.25,100.01 227.44,100.77 227.64,100.37 227.84,100.14 228.03,100.24 228.23,100.00 228.43,100.36 228.62,100.14 228.82,100.77 229.02,100.56 229.22,99.99 229.41,100.03 229.61,100.26 229.81,99.93 230.00,100.37 230.20,100.39 230.40,100.21 230.60,100.27 230.79,100.52 230.99,100.75 231.19,100.75 231.38,100.30 231.58,100.19 231.78,99.08 231.98,98.25 232.17,96.90 232.37,97.14 232.57,97.45 232.76,98.68 232.96,99.79 233.16,100.36 233.36,100.01 233.55,100.26 233.75,100.43 233.95,100.46 234.14,100.19 234.34,100.42 234.54,100.33 234.73,100.75 234.93,100.54 235.13,100.07 235.33,99.86 235.52,100.42 235.72,100.69 235.92,100.44 236.11,100.61 236.31,100.22 236.51,99.80 236.71,99.71 236.90,98.36 237.10,97.02 237.30,95.60 237.49,96.36 237.69,97.52 237.89,99.27 238.09,99.79 238.28,100.13 238.48,100.23 238.68,100.71 238.87,100.41 239.07,100.21 239.27,100.15 239.47,100.14 239.66,100.76 239.86,99.95 240.06,100.19 240.25,100.56 240.45,100.69 240.65,100.36 240.84,100.59 241.04,100.59 241.24,100.64 241.44,100.41 241.63,100.81 241.83,100.45 242.03,100.78 242.22,100.13 242.42,100.64 242.62,100.10 242.82,100.04 243.01,100.53 243.21,100.20 243.41,100.52 243.60,100.14 243.80,100.80 244.00,100.41 244.20,100.13 244.39,100.45 244.59,100.63 244.79,100.22 244.98,100.54 245.18,100.91 245.38,100.62 245.58,100.41 245.77,100.27 245.97,100.55 246.17,100.04 246.36,99.67 246.56,100.25 246.76,100.15 246.96,100.84 247.15,100.45 247.35,100.17 247.55,100.13 247.74,100.54 247.94,100.21 248.14,100.27 248.33,100.39 248.53,100.44 248.73,100.44 248.93,100.44 249.12,100.74 249.32,100.83 249.52,100.01 249.71,101.05 249.91,100.45 250.11,100.72 250.31,100.24 250.50,100.50" fill="none" stroke="#1b8a1b" stroke-width="1.3" stroke-linejoin="round"/>
<polyline points="64.44,113.12 64.64,113.30 64.83,114.76 65.03,113.26 65.23,110.39 65.43,111.39 65.62,110.09 65.82,110.14 66.02,107.72 66.21,108.89 66.41,108.33 66.61,109.22 66.81,107.76 67.00,107.88 67.20,106.00 67.40,109.62 67.59,105.80 67.79,108.77 67.99,107.61 68.19,107.31 68.38,107.76 68.58,108.01 68.78,109.26 68.97,109.11 69.17,110.86 69.37,108.19 69.57,110.16 69.76,109.69 69.96,111.49 70.16,109.25 70.35,111.11 70.55,111.89 70.75,110.69 70.94,113.09 71.14,112.63 71.34,113.56 71.54,113.72 71.73,112.25 71.93,112.57 72.13,113.22 72.32,114.14 72.52,114.33 72.72,113.13 72.92,113.29 73.11,113.20 73.31,113.43 73.51,113.75 73.70,113.85 73.90,115.63 74.10,113.57 74.30,113.74 74.49,114.32 74.69,113.18 74.89,113.62 75.08,113.88 75.28,114.44 75.48,112.77 75.68,114.80 75.87,113.42 76.07,113.76 76.27,114.22 76.46,114.01 76.66,114.24 76.86,113.51 77.05,113.29 77.25,113.47 77.45,112.42 77.65,113.98 77.84,112.44 78.04,112.01 78.24,114.35 78.43,112.68 78.63,111.86 78.83,113.96 79.03,112.32 79.22,113.24 79.42,111.83 79.62,112.17 79.81,111.10 80.01,110.89 80.21,111.48 80.41,112.05 80.60,112.60 80.80,113.67 81.00,111.26 81.19,112.61 81.39,111.48 81.59,111.76 81.79,110.84 81.98,110.83 82.18,111.29 82.38,111.01 82.57,111.80 82.77,111.34 82.97,112.63 83.16,111.92 83.36,111.94 83.56,112.59 83.76,112.21 83.95,111.88 84.15,111.88 84.35,111.89 84.54,112.69 84.74,112.54 84.94,112.31 85.14,112.63 85.33,111.84 85.53,112.54 85.73,111.40 85.92,113.17 86.12,112.44 86.32,112.56 86.52,112.87 86.71,112.56 86.91,112.47 87.11,113.41 87.30,112.82 87.50,112.27 87.70,113.14 87.90,111.93 88.09,113.99 88.29,112.97 88.49,113.16 88.68,114.52 88.88,114.51 89.08,113.39 89.28,113.74 89.47,114.07 89.67,114.46 89.87,113.47 90.06,113.68 90.26,114.35 90.46,113.86 90.65,114.18 90.85,114.15 91.05,113.22 91.25,113.42 91.44,112.47 91.64,113.84 91.84,114.76 92.03,113.45 92.23,114.77 92.43,114.68 92.63,114.13 92.82,114.19 93.02,114.27 93.22,113.78 93.41,114.12 93.61,114.27 93.81,114.65 94.01,114.77 94.20,113.97 94.40,114.82 94.60,113.99 94.79,114.33 94.99,114.63 95.19,114.44 95.39,114.39 95.58,114.61 95.78,114.20 95.98,114.16 96.17,114.40 96.37,115.01 96.57,114.47 96.76,115.50 96.96,114.65 97.16,113.04 97.36,114.33 97.55,115.39 97.75,114.56 97.95,114.34 98.14,114.13 98.34,115.21 98.54,114.98 98.74,114.62 98.93,114.10 99.13,114.10 99.33,113.50 99.52,112.62 99.72,114.05 99.92,114.23 100.12,114.38 100.31,114.92 100.51,114.60 100.71,113.18 100.90,115.34 101.10,115.09 101.30,114.54 101.50,114.42 101.69,114.70 101.89,113.99 102.09,114.74 102.28,114.49 102.48,114.43 102.68,114.17 102.87,114.28 103.07,115.11 103.27,115.22 103.47,114.83 103.66,114.58 103.86,114.20 104.06,114.93 104.25,115.34 104.45,113.86 104.65,115.13 104.85,113.62 105.04,114.45 105.24,114.77 105.44,113.99 105.63,113.92 105.83,114.68 106.03,114.99 106.23,114.39 106.42,115.20 106.62,114.25 106.82,115.36 107.01,114.58 107.21,114.31 107.41,113.42 107.61,110.78 107.80,107.54 108.00,104.19 108.20,102.85 108.39,105.32 108.59,108.94 108.79,112.17 108.99,113.98 109.18,114.42 109.38,114.56 109.58,114.60 109.77,114.81 109.97,114.02 110.17,114.16 110.36,115.08 110.56,114.95 110.76,114.37 110.96,115.15 111.15,114.32 111.35,114.49 111.55,113.78 111.74,114.64 111.94,113.28 112.14,111.07 112.34,106.13 112.53,100.56 112.73,98.17 112.93,101.01 113.12,105.77 113.32,110.57 113.52,113.32 113.72,114.62 113.91,114.93 114.11,115.38 114.31,114.58 114.50,115.12 114.70,114.35 114.90,114.86 115.10,114.66 115.29,115.31 115.49,114.86 115.69,114.44 115.88,114.85 116.08,114.76 116.28,114.49 116.47,114.50 116.67,114.24 116.87,115.71 117.07,114.67 117.26,115.00 117.46,114.16 117.66,114.19 117.85,114.56 118.05,114.56 118.25,114.93 118.45,114.23 118.64,114.83 118.84,115.21 119.04,114.26 119.23,114.97 119.43,114.25 119.63,114.75 119.83,114.76 120.02,115.29 120.22,114.35 120.42,114.68 120.61,115.02 120.81,114.17 121.01,114.62 121.21,114.29 121.40,114.35 121.60,114.88 121.80,114.88 121.99,115.60 122.19,115.14 122.39,115.11 122.58,114.56 122.78,114.51 122.98,114.67 123.18,113.76 123.37,115.24 123.57,114.37 123.77,114.22 123.96,114.44 124.16,114.91 124.36,114.89 124.56,113.60 124.75,111.71 124.95,106.82 125.15,99.87 125.34,95.29 125.54,95.57 125.74,100.41 125.94,107.90 126.13,111.33 126.33,113.95 126.53,114.07 126.72,114.29 126.92,114.35 127.12,114.87 127.32,114.15 127.51,114.54 127.71,115.17 127.91,114.36 128.10,114.60 128.30,114.85 128.50,114.40 128.70,114.78 128.89,114.37 129.09,114.86 129.29,114.63 129.48,114.27 129.68,115.11 129.88,114.57 130.07,114.51 130.27,114.28 130.47,114.44 130.67,114.57 130.86,114.67 131.06,115.00 131.26,114.14 131.45,114.48 131.65,115.03 131.85,114.67 132.05,114.75 132.24,115.17 132.44,114.72 132.64,114.77 132.83,114.59 133.03,115.22 133.23,114.97 133.43,114.35 133.62,114.80 133.82,114.20 134.02,114.98 134.21,114.84 134.41,114.55 134.61,114.46 134.81,113.98 135.00,114.87 135.20,114.56 135.40,114.49 135.59,114.85 135.79,114.37 135.99,114.40 136.18,114.36 136.38,114.13 136.58,115.43 136.78,114.53 136.97,114.48 137.17,114.91 137.37,113.52 137.56,114.59 137.76,114.60 137.96,114.27 138.16,114.75 138.35,113.91 138.55,114.60 138.75,114.89 138.94,113.83 139.14,114.09 139.34,114.53 139.54,114.57 139.73,114.35 139.93,114.69 140.13,114.65 140.32,114.11 140.52,114.52 140.72,114.12 140.92,113.85 141.11,113.74 141.31,114.89 141.51,114.50 141.70,115.20 141.90,114.05 142.10,114.42 142.29,114.66 142.49,114.49 142.69,114.71 142.89,114.59 143.08,114.34 143.28,113.77 143.48,114.23 143.67,115.12 143.87,114.80 144.07,115.01 144.27,114.36 144.46,114.49 144.66,114.26 144.86,114.68 145.05,114.58 145.25,114.71 145.45,115.14 145.65,114.28 145.84,114.80 146.04,114.10 146.24,114.92 146.43,114.41 146.63,114.54 146.83,114.60 147.03,115.10 147.22,114.55 147.42,114.40 147.62,114.17 147.81,114.65 148.01,114.28 148.21,114.39 148.41,114.55 148.60,114.73 148.80,114.08 149.00,113.84 149.19,112.48 149.39,108.62 149.59,106.83 149.78,106.33 149.98,107.26 150.18,110.64 150.38,112.37 150.57,114.14 150.77,114.33 150.97,114.64 151.16,114.26 151.36,114.29 151.56,114.41 151.76,114.33 151.95,114.36 152.15,114.49 152.35,114.20 152.54,114.51 152.74,114.71 152.94,113.81 153.14,114.62 153.33,114.31 153.53,114.19 153.73,114.12 153.92,114.28 154.12,114.31 154.32,114.66 154.52,114.14 154.71,114.88 154.91,114.28 155.11,114.77 155.30,114.90 155.50,114.16 155.70,114.89 155.89,115.25 156.09,114.42 156.29,114.75 156.49,114.53 156.68,114.60 156.88,114.51 157.08,114.41 157.27,114.81 157.47,114.86 157.67,114.58 157.87,115.07 158.06,114.93 158.26,114.81 158.46,114.36 158.65,115.19 158.85,115.01 159.05,113.91 159.25,114.24 159.44,114.44 159.64,114.89 159.84,114.99 160.03,114.49 160.23,114.58 160.43,114.48 160.63,113.30 160.82,113.08 161.02,112.12 161.22,112.23 161.41,112.79 161.61,113.26 161.81,113.90 162.00,114.49 162.20,114.55 162.40,114.15 162.60,113.56 162.79,110.75 162.99,106.81 163.19,103.77 163.38,103.25 163.58,105.88 163.78,110.11 163.98,112.78 164.17,114.34 164.37,114.67 164.57,114.53 164.76,114.92 164.96,114.52 165.16,114.68 165.36,114.29 165.55,114.63 165.75,114.50 165.95,114.72 166.14,115.17 166.34,115.34 166.54,114.92 166.74,114.59 166.93,114.86 167.13,114.67 167.33,114.41 167.52,114.58 167.72,114.52 167.92,114.41 168.12,115.03 168.31,114.43 168.51,114.45 168.71,114.82 168.90,114.39 169.10,114.25 169.30,114.34 169.49,114.75 169.69,114.72 169.89,114.70 170.09,114.46 170.28,114.32 170.48,114.89 170.68,114.16 170.87,114.54 171.07,114.19 171.27,114.48 171.47,114.56 171.66,114.98 171.86,113.72 172.06,115.03 172.25,114.33 172.45,114.70 172.65,114.85 172.85,114.37 173.04,114.58 173.24,114.76 173.44,114.57 173.63,114.38 173.83,114.67 174.03,114.64 174.23,114.15 174.42,115.03 174.62,114.66 174.82,113.77 175.01,113.96 175.21,113.94 175.41,112.44 175.60,110.42 175.80,109.09 176.00,110.27 176.20,112.28 176.39,113.53 176.59,114.11 176.79,114.29 176.98,114.85 177.18,114.54 177.38,114.71 177.58,114.76 177.77,115.12 177.97,114.67 178.17,114.69 178.36,114.06 178.56,114.95 178.76,114.89 178.96,114.61 179.15,113.92 179.35,114.44 179.55,114.64 179.74,115.26 179.94,114.79 180.14,114.86 180.34,114.86 180.53,115.02 180.73,114.26 180.93,114.35 181.12,114.25 181.32,114.52 181.52,114.50 181.71,114.64 181.91,114.30 182.11,114.64 182.31,114.35 182.50,115.26 182.70,114.45 182.90,115.39 183.09,115.11 183.29,114.24 183.49,114.90 183.69,114.80 183.88,114.14 184.08,114.80 184.28,114.58 184.47,114.72 184.67,114.35 184.87,114.59 185.07,114.73 185.26,114.55 185.46,114.42 185.66,114.56 185.85,114.31 186.05,114.71 186.25,113.83 186.45,115.07 186.64,114.63 186.84,114.75 187.04,114.87 187.23,114.23 187.43,115.30 187.63,114.27 187.83,114.75 188.02,114.71 188.22,115.01 188.42,114.60 188.61,114.18 188.81,114.71 189.01,113.86 189.20,114.55 189.40,114.47 189.60,115.08 189.80,114.52 189.99,114.47 190.19,114.38 190.39,114.34 190.58,114.44 190.78,114.79 190.98,114.20 191.18,114.54 191.37,114.16 191.57,114.55 191.77,114.65 191.96,114.23 192.16,114.43 192.36,114.63 192.56,114.84 192.75,114.89 192.95,114.57 193.15,114.30 193.34,114.11 193.54,114.84 193.74,115.02 193.94,114.71 194.13,115.07 194.33,114.46 194.53,114.48 194.72,115.08 194.92,114.29 195.12,114.78 195.31,114.72 195.51,114.65 195.71,115.13 195.91,114.33 196.10,114.47 196.30,113.97 196.50,114.28 196.69,114.44 196.89,114.48 197.09,114.54 197.29,114.69 197.48,114.40 197.68,114.00 197.88,114.65 198.07,114.73 198.27,114.25 198.47,114.36 198.67,115.13 198.86,114.91 199.06,114.93 199.26,114.80 199.45,114.64 199.65,114.44 199.85,114.77 200.05,114.54 200.24,114.47 200.44,114.60 200.64,114.58 200.83,114.87 201.03,114.31 201.23,115.36 201.42,114.29 201.62,114.47 201.82,114.89 202.02,114.35 202.21,114.45 202.41,114.61 202.61,113.70 202.80,114.45 203.00,114.31 203.20,114.52 203.40,114.75 203.59,114.79 203.79,115.06 203.99,115.04 204.18,114.91 204.38,114.59 204.58,114.92 204.78,114.30 204.97,114.57 205.17,115.04 205.37,114.84 205.56,114.18 205.76,114.42 205.96,114.88 206.16,114.79 206.35,114.93 206.55,114.07 206.75,114.22 206.94,114.53 207.14,114.31 207.34,114.59 207.54,114.61 207.73,114.71 207.93,114.56 208.13,114.77 208.32,114.84 208.52,114.65 208.72,114.24 208.91,115.00 209.11,114.67 209.31,114.73 209.51,114.66 209.70,114.12 209.90,114.78 210.10,114.41 210.29,114.24 210.49,114.99 210.69,114.51 210.89,114.69 211.08,114.87 211.28,115.09 211.48,114.05 211.67,114.36 211.87,114.77 212.07,114.34 212.27,113.50 212.46,114.45 212.66,114.36 212.86,114.37 213.05,114.00 213.25,113.56 213.45,113.49 213.65,113.14 213.84,112.76 214.04,112.80 214.24,112.73 214.43,112.31 214.63,113.02 214.83,113.14 215.02,113.36 215.22,112.56 215.42,113.70 215.62,113.87 215.81,113.81 216.01,114.45 216.21,113.94 216.40,114.85 216.60,114.65 216.80,114.41 217.00,115.01 217.19,114.73 217.39,114.70 217.59,114.21 217.78,114.76 217.98,115.03 218.18,114.94 218.38,114.21 218.57,115.02 218.77,115.09 218.97,114.86 219.16,114.49 219.36,114.15 219.56,114.33 219.76,114.43 219.95,114.68 220.15,114.77 220.35,114.37 220.54,114.10 220.74,114.47 220.94,114.20 221.13,115.00 221.33,114.22 221.53,114.74 221.73,114.84 221.92,114.30 222.12,114.89 222.32,114.55 222.51,114.35 222.71,114.30 222.91,114.62 223.11,114.91 223.30,114.01 223.50,114.77 223.70,114.54 223.89,114.36 224.09,114.55 224.29,114.58 224.49,114.57 224.68,114.83 224.88,114.31 225.08,115.18 225.27,114.86 225.47,114.41 225.67,114.01 225.87,114.58 226.06,114.46 226.26,114.81 226.46,114.81 226.65,115.17 226.85,114.55 227.05,114.83 227.25,114.46 227.44,114.48 227.64,115.06 227.84,114.55 228.03,114.56 228.23,114.49 228.43,114.69 228.62,114.78 228.82,114.56 229.02,114.25 229.22,114.70 229.41,114.35 229.61,114.49 229.81,114.66 230.00,114.68 230.20,113.90 230.40,115.11 230.60,114.84 230.79,115.18 230.99,115.36 231.19,114.32 231.38,114.43 231.58,114.67 231.78,114.88 231.98,114.44 232.17,114.50 232.37,114.92 232.57,114.33 232.76,114.66 232.96,114.92 233.16,114.51 233.36,114.83 233.55,114.56 233.75,114.11 233.95,114.42 234.14,114.53 234.34,114.48 234.54,114.59 234.73,114.70 234.93,114.67 235.13,114.63 235.33,114.45 235.52,114.51 235.72,114.46 235.92,114.40 236.11,114.99 236.31,114.00 236.51,114.64 236.71,114.08 236.90,114.39 237.10,114.81 237.30,114.48 237.49,114.98 237.69,114.28 237.89,114.47 238.09,114.37 238.28,114.56 238.48,114.46 238.68,114.44 238.87,114.58 239.07,114.88 239.27,114.59 239.47,114.56 239.66,114.46 239.86,114.33 240.06,114.10 240.25,114.22 240.45,114.55 240.65,113.96 240.84,114.73 241.04,114.40 241.24,114.25 241.44,114.37 241.63,114.73 241.83,114.64 242.03,114.61 242.22,115.06 242.42,115.24 242.62,114.16 242.82,114.81 243.01,114.32 243.21,114.14 243.41,114.40 243.60,114.86 243.80,114.47 244.00,114.42 244.20,114.99 244.39,114.73 244.59,114.56 244.79,115.13 244.98,114.73 245.18,114.37 245.38,114.27 245.58,114.47 245.77,114.65 245.97,114.88 246.17,114.85 246.36,114.64 246.56,114.25 246.76,114.88 246.96,114.63 247.15,114.27 247.35,114.23 247.55,114.67 247.74,114.70 247.94,114.84 248.14,114.23 248.33,115.17 248.53,114.05 248.73,114.58 248.93,115.00 249.12,114.91 249.32,114.31 249.52,114.78 249.71,114.96 249.91,114.81 250.11,114.30 250.31,115.09 250.50,114.10" fill="none" stroke="#2b77ee" stroke-width="1.3" stroke-linejoin="round"/>
<polyline points="64.44,123.96 64.64,123.23 64.83,123.96 65.03,124.20 65.23,124.38 65.43,122.83 65.62,121.55 65.82,120.63 66.02,121.33 66.21,121.46 66.41,119.62 66.61,117.81 66.81,117.80 67.00,120.04 67.20,118.83 67.40,117.22 67.59,118.86 67.79,118.14 67.99,118.89 68.19,119.34 68.38,119.50 68.58,120.97 68.78,120.83 68.97,120.78 69.17,122.03 69.37,122.77 69.57,121.06 69.76,122.58 69.96,122.31 70.16,123.28 70.35,122.64 70.55,123.96 70.75,124.13 70.94,124.10 71.14,123.65 71.34,124.32 71.54,123.87 71.73,123.76 71.93,125.10 72.13,124.10 72.32,125.94 72.52,125.62 72.72,123.53 72.92,125.32 73.11,124.27 73.31,125.15 73.51,125.16 73.70,123.61 73.90,124.94 74.10,124.92 74.30,125.82 74.49,124.20 74.69,125.61 74.89,124.23 75.08,124.77 75.28,124.37 75.48,126.01 75.68,125.33 75.87,126.63 76.07,125.29 76.27,125.38 76.46,125.31 76.66,124.22 76.86,124.53 77.05,125.45 77.25,124.14 77.45,124.46 77.65,124.22 77.84,124.55 78.04,123.77 78.24,123.81 78.43,123.96 78.63,123.74 78.83,122.96 79.03,124.02 79.22,122.42 79.42,122.35 79.62,122.17 79.81,123.53 80.01,122.52 80.21,122.00 80.41,121.77 80.60,122.67 80.80,121.61 81.00,121.37 81.19,122.49 81.39,121.25 81.59,121.74 81.79,121.89 81.98,121.57 82.18,121.79 82.38,122.64 82.57,121.48 82.77,121.03 82.97,120.69 83.16,121.72 83.36,121.66 83.56,122.08 83.76,121.68 83.95,121.73 84.15,121.65 84.35,121.84 84.54,122.32 84.74,122.08 84.94,122.45 85.14,123.60 85.33,122.85 85.53,121.74 85.73,123.78 85.92,123.07 86.12,122.42 86.32,123.59 86.52,123.18 86.71,122.92 86.91,123.02 87.11,122.91 87.30,123.61 87.50,124.28 87.70,123.59 87.90,124.10 88.09,125.00 88.29,123.37 88.49,124.27 88.68,124.03 88.88,123.70 89.08,123.79 89.28,124.41 89.47,124.72 89.67,124.26 89.87,124.63 90.06,125.05 90.26,124.87 90.46,125.22 90.65,125.04 90.85,125.10 91.05,125.84 91.25,125.24 91.44,125.01 91.64,125.34 91.84,124.51 92.03,124.84 92.23,125.45 92.43,125.38 92.63,125.87 92.82,125.09 93.02,124.36 93.22,126.11 93.41,125.68 93.61,124.60 93.81,125.84 94.01,125.17 94.20,124.25 94.40,124.95 94.60,124.92 94.79,125.96 94.99,124.79 95.19,125.06 95.39,125.05 95.58,125.00 95.78,124.74 95.98,125.30 96.17,125.71 96.37,125.49 96.57,124.75 96.76,124.64 96.96,125.25 97.16,124.86 97.36,124.90 97.55,124.40 97.75,126.12 97.95,125.63 98.14,124.74 98.34,125.60 98.54,125.74 98.74,123.80 98.93,124.26 99.13,123.84 99.33,124.01 99.52,123.78 99.72,124.18 99.92,124.73 100.12,125.89 100.31,126.14 100.51,124.95 100.71,124.78 100.90,126.41 101.10,124.76 101.30,124.94 101.50,125.22 101.69,125.42 101.89,125.66 102.09,125.37 102.28,124.81 102.48,125.42 102.68,125.31 102.87,126.02 103.07,125.19 103.27,124.62 103.47,124.75 103.66,125.83 103.86,124.97 104.06,124.29 104.25,124.95 104.45,125.20 104.65,125.71 104.85,124.77 105.04,125.48 105.24,125.54 105.44,124.90 105.63,125.12 105.83,125.95 106.03,125.92 106.23,125.56 106.42,125.34 106.62,125.67 106.82,125.13 107.01,125.09 107.21,124.49 107.41,123.89 107.61,121.60 107.80,119.25 108.00,114.87 108.20,114.91 108.39,117.44 108.59,120.48 108.79,123.78 108.99,123.75 109.18,125.12 109.38,125.53 109.58,124.23 109.77,124.73 109.97,125.62 110.17,125.10 110.36,124.76 110.56,125.05 110.76,124.98 110.96,125.49 111.15,125.38 111.35,125.08 111.55,124.88 111.74,124.86 111.94,124.41 112.14,121.36 112.34,116.69 112.53,111.06 112.73,108.20 112.93,110.84 113.12,116.69 113.32,121.27 113.52,123.54 113.72,124.26 113.91,125.19 114.11,125.06 114.31,125.07 114.50,125.07 114.70,125.31 114.90,125.31 115.10,125.56 115.29,125.55 115.49,125.70 115.69,125.50 115.88,125.07 116.08,125.18 116.28,125.39 116.47,125.08 116.67,125.40 116.87,125.59 117.07,124.69 117.26,123.77 117.46,123.53 117.66,121.02 117.85,119.40 118.05,118.32 118.25,120.93 118.45,122.72 118.64,124.03 118.84,124.74 119.04,125.17 119.23,125.13 119.43,125.10 119.63,124.79 119.83,125.66 120.02,125.19 120.22,125.23 120.42,125.23 120.61,124.35 120.81,125.39 121.01,125.08 121.21,125.10 121.40,125.22 121.60,124.85 121.80,125.50 121.99,124.95 122.19,124.88 122.39,124.89 122.58,125.26 122.78,125.46 122.98,124.99 123.18,124.67 123.37,125.57 123.57,124.83 123.77,125.62 123.96,125.18 124.16,124.93 124.36,124.82 124.56,124.64 124.75,122.98 124.95,118.72 125.15,113.67 125.34,109.93 125.54,109.41 125.74,113.55 125.94,118.96 126.13,122.49 126.33,124.36 126.53,124.83 126.72,124.73 126.92,125.38 127.12,124.30 127.32,124.75 127.51,125.89 127.71,125.55 127.91,125.38 128.10,125.36 128.30,125.80 128.50,125.38 128.70,125.23 128.89,124.78 129.09,125.18 129.29,124.95 129.48,124.96 129.68,124.96 129.88,125.18 130.07,125.09 130.27,125.49 130.47,124.76 130.67,125.14 130.86,125.82 131.06,125.21 131.26,125.60 131.45,125.58 131.65,125.64 131.85,125.45 132.05,124.74 132.24,125.11 132.44,125.07 132.64,124.69 132.83,125.05 133.03,124.79 133.23,124.65 133.43,125.27 133.62,125.19 133.82,124.97 134.02,124.89 134.21,125.02 134.41,125.07 134.61,125.07 134.81,125.18 135.00,125.06 135.20,125.33 135.40,125.37 135.59,125.32 135.79,124.98 135.99,125.00 136.18,125.34 136.38,125.14 136.58,125.19 136.78,124.39 136.97,124.33 137.17,125.31 137.37,125.31 137.56,125.65 137.76,125.43 137.96,125.27 138.16,125.21 138.35,124.74 138.55,125.48 138.75,125.01 138.94,125.36 139.14,125.26 139.34,125.29 139.54,125.48 139.73,125.04 139.93,125.08 140.13,124.93 140.32,125.08 140.52,125.73 140.72,125.08 140.92,125.58 141.11,125.46 141.31,125.43 141.51,125.45 141.70,124.88 141.90,125.32 142.10,125.70 142.29,124.98 142.49,125.19 142.69,124.98 142.89,125.30 143.08,124.86 143.28,125.71 143.48,125.08 143.67,124.72 143.87,125.76 144.07,125.50 144.27,125.36 144.46,125.37 144.66,125.09 144.86,125.13 145.05,125.43 145.25,125.49 145.45,125.49 145.65,125.27 145.84,125.06 146.04,125.14 146.24,125.54 146.43,125.65 146.63,125.09 146.83,125.05 147.03,125.59 147.22,125.42 147.42,125.42 147.62,124.79 147.81,125.08 148.01,125.04 148.21,125.26 148.41,124.67 148.60,125.54 148.80,125.00 149.00,124.21 149.19,121.68 149.39,118.70 149.59,115.89 149.78,114.10 149.98,116.85 150.18,120.52 150.38,122.92 150.57,124.81 150.77,124.96 150.97,125.55 151.16,125.36 151.36,125.27 151.56,125.81 151.76,125.45 151.95,125.60 152.15,124.84 152.35,125.00 152.54,125.45 152.74,125.48 152.94,125.18 153.14,125.44 153.33,124.88 153.53,125.26 153.73,124.85 153.92,125.30 154.12,125.05 154.32,125.01 154.52,125.22 154.71,125.75 154.91,124.89 155.11,125.02 155.30,125.52 155.50,125.07 155.70,125.73 155.89,125.27 156.09,125.23 156.29,125.31 156.49,125.72 156.68,125.40 156.88,125.36 157.08,125.28 157.27,124.73 157.47,124.93 157.67,125.64 157.87,125.45 158.06,125.35 158.26,125.39 158.46,125.04 158.65,125.30 158.85,124.93 159.05,125.32 159.25,124.99 159.44,125.14 159.64,125.33 159.84,125.10 160.03,125.37 160.23,125.20 160.43,124.83 160.63,124.35 160.82,122.37 161.02,121.39 161.22,121.99 161.41,122.96 161.61,124.44 161.81,124.89 162.00,125.28 162.20,124.85 162.40,125.12 162.60,124.27 162.79,121.80 162.99,118.81 163.19,116.31 163.38,115.95 163.58,117.16 163.78,121.21 163.98,123.63 164.17,124.66 164.37,125.17 164.57,125.32 164.76,124.90 164.96,125.32 165.16,125.13 165.36,124.92 165.55,125.26 165.75,125.64 165.95,124.77 166.14,124.71 166.34,124.71 166.54,125.78 166.74,125.13 166.93,125.18 167.13,124.97 167.33,124.92 167.52,124.61 167.72,125.25 167.92,125.28 168.12,124.62 168.31,124.89 168.51,124.98 168.71,125.19 168.90,125.27 169.10,125.53 169.30,125.60 169.49,125.51 169.69,125.59 169.89,124.86 170.09,125.04 170.28,125.53 170.48,125.28 170.68,125.21 170.87,124.62 171.07,124.66 171.27,125.41 171.47,125.30 171.66,125.11 171.86,125.08 172.06,124.70 172.25,125.31 172.45,125.50 172.65,125.68 172.85,125.21 173.04,125.14 173.24,124.88 173.44,125.56 173.63,125.70 173.83,125.02 174.03,125.28 174.23,125.23 174.42,125.03 174.62,124.46 174.82,125.02 175.01,125.07 175.21,123.87 175.41,122.94 175.60,121.00 175.80,121.77 176.00,122.10 176.20,123.20 176.39,124.21 176.59,124.71 176.79,125.10 176.98,125.10 177.18,125.13 177.38,125.19 177.58,125.24 177.77,125.65 177.97,124.78 178.17,125.28 178.36,125.02 178.56,124.87 178.76,124.52 178.96,125.38 179.15,124.91 179.35,124.98 179.55,125.33 179.74,124.88 179.94,125.20 180.14,125.18 180.34,125.43 180.53,125.49 180.73,124.95 180.93,125.46 181.12,125.17 181.32,125.23 181.52,125.14 181.71,125.42 181.91,124.85 182.11,125.27 182.31,125.54 182.50,125.12 182.70,125.78 182.90,124.99 183.09,125.26 183.29,125.06 183.49,125.02 183.69,124.88 183.88,125.04 184.08,125.18 184.28,124.97 184.47,125.45 184.67,125.63 184.87,124.76 185.07,125.44 185.26,125.25 185.46,125.27 185.66,125.90 185.85,125.54 186.05,125.29 186.25,125.25 186.45,124.58 186.64,125.42 186.84,124.99 187.04,125.25 187.23,125.23 187.43,125.47 187.63,125.78 187.83,125.48 188.02,125.56 188.22,125.13 188.42,125.33 188.61,125.42 188.81,124.79 189.01,125.78 189.20,125.00 189.40,124.83 189.60,125.67 189.80,125.81 189.99,125.00 190.19,125.02 190.39,126.09 190.58,125.23 190.78,124.63 190.98,125.03 191.18,125.77 191.37,125.39 191.57,125.41 191.77,125.55 191.96,125.39 192.16,125.10 192.36,124.75 192.56,125.33 192.75,124.88 192.95,125.18 193.15,125.70 193.34,125.35 193.54,125.22 193.74,125.22 193.94,125.41 194.13,125.46 194.33,124.82 194.53,125.25 194.72,125.69 194.92,125.41 195.12,124.98 195.31,125.01 195.51,124.61 195.71,124.97 195.91,125.66 196.10,125.18 196.30,124.96 196.50,125.04 196.69,125.17 196.89,125.17 197.09,125.10 197.29,124.98 197.48,125.38 197.68,125.64 197.88,125.04 198.07,125.05 198.27,125.54 198.47,124.78 198.67,125.03 198.86,125.09 199.06,125.25 199.26,125.12 199.45,124.95 199.65,125.29 199.85,124.86 200.05,124.71 200.24,124.62 200.44,125.41 200.64,124.71 200.83,125.33 201.03,125.39 201.23,125.43 201.42,125.15 201.62,125.04 201.82,125.22 202.02,125.03 202.21,124.84 202.41,125.56 202.61,124.95 202.80,125.71 203.00,125.35 203.20,125.07 203.40,125.32 203.59,125.55 203.79,124.81 203.99,124.94 204.18,124.90 204.38,125.25 204.58,125.31 204.78,125.21 204.97,124.99 205.17,125.05 205.37,125.54 205.56,125.52 205.76,125.24 205.96,124.83 206.16,125.38 206.35,125.28 206.55,125.27 206.75,125.69 206.94,125.43 207.14,124.92 207.34,124.93 207.54,125.59 207.73,125.26 207.93,125.45 208.13,125.17 208.32,124.93 208.52,125.29 208.72,125.66 208.91,125.31 209.11,124.90 209.31,125.13 209.51,125.08 209.70,125.27 209.90,125.51 210.10,125.78 210.29,125.29 210.49,125.10 210.69,125.25 210.89,125.23 211.08,125.10 211.28,125.23 211.48,125.22 211.67,124.88 211.87,125.34 212.07,125.06 212.27,124.83 212.46,125.17 212.66,124.78 212.86,125.25 213.05,124.69 213.25,124.33 213.45,123.83 213.65,123.66 213.84,123.77 214.04,123.15 214.24,123.45 214.43,122.64 214.63,123.38 214.83,123.73 215.02,123.84 215.22,124.01 215.42,124.56 215.62,124.28 215.81,124.45 216.01,124.92 216.21,125.35 216.40,125.22 216.60,125.09 216.80,125.27 217.00,125.33 217.19,124.86 217.39,124.42 217.59,124.93 217.78,124.80 217.98,125.06 218.18,124.88 218.38,124.98 218.57,125.34 218.77,125.25 218.97,125.22 219.16,125.69 219.36,125.09 219.56,125.12 219.76,125.58 219.95,124.91 220.15,124.77 220.35,125.59 220.54,125.32 220.74,125.40 220.94,125.41 221.13,125.48 221.33,125.09 221.53,125.21 221.73,124.92 221.92,125.27 222.12,125.30 222.32,125.10 222.51,125.42 222.71,126.06 222.91,124.91 223.11,125.47 223.30,125.50 223.50,125.53 223.70,125.01 223.89,125.57 224.09,125.42 224.29,125.20 224.49,125.14 224.68,125.31 224.88,125.50 225.08,125.49 225.27,125.88 225.47,125.14 225.67,125.42 225.87,125.12 226.06,125.46 226.26,125.28 226.46,125.08 226.65,124.87 226.85,125.03 227.05,125.31 227.25,125.66 227.44,125.46 227.64,124.91 227.84,125.11 228.03,125.25 228.23,125.20 228.43,125.25 228.62,125.45 228.82,125.29 229.02,125.03 229.22,124.68 229.41,125.13 229.61,124.75 229.81,125.17 230.00,125.30 230.20,124.83 230.40,125.17 230.60,125.11 230.79,125.74 230.99,125.33 231.19,124.67 231.38,125.32 231.58,125.31 231.78,125.13 231.98,125.08 232.17,125.36 232.37,125.37 232.57,125.31 232.76,124.90 232.96,125.11 233.16,124.74 233.36,124.76 233.55,125.02 233.75,124.88 233.95,125.06 234.14,125.87 234.34,125.31 234.54,124.92 234.73,124.56 234.93,124.94 235.13,124.77 235.33,124.55 235.52,125.37 235.72,125.03 235.92,125.29 236.11,126.03 236.31,125.24 236.51,125.20 236.71,125.26 236.90,125.09 237.10,124.93 237.30,125.11 237.49,125.49 237.69,125.09 237.89,124.78 238.09,124.82 238.28,124.88 238.48,125.17 238.68,125.30 238.87,125.30 239.07,125.50 239.27,125.11 239.47,125.41 239.66,125.27 239.86,125.38 240.06,124.66 240.25,125.53 240.45,124.75 240.65,124.87 240.84,125.40 241.04,125.08 241.24,125.69 241.44,125.24 241.63,124.90 241.83,125.24 242.03,125.08 242.22,125.63 242.42,125.65 242.62,125.40 242.82,125.08 243.01,125.22 243.21,125.49 243.41,124.97 243.60,124.97 243.80,125.44 244.00,125.40 244.20,125.13 244.39,125.12 244.59,124.65 244.79,125.53 244.98,125.16 245.18,124.80 245.38,124.88 245.58,124.95 245.77,125.68 245.97,125.39 246.17,124.82 246.36,125.72 246.56,125.57 246.76,124.90 246.96,124.45 247.15,125.47 247.35,125.03 247.55,125.16 247.74,125.05 247.94,125.55 248.14,125.62 248.33,125.43 248.53,125.16 248.73,125.27 248.93,125.37 249.12,124.76 249.32,125.55 249.52,125.11 249.71,125.27 249.91,125.24 250.11,125.45 250.31,125.50 250.50,125.82" fill="none" stroke="#111111" stroke-width="1.3" stroke-linejoin="round"/>
<rect x="103.40" y="32.5" width="2" height="2" fill="#1f9a1f"/>
<rect x="116.60" y="32.5" width="2" height="2" fill="#1f9a1f"/>
<rect x="121.20" y="32.5" width="2" height="2" fill="#1f9a1f"/>
<rect x="131.40" y="32.5" width="2" height="2" fill="#1f9a1f"/>
<rect x="139.10" y="32.5" width="2" height="2" fill="#1f9a1f"/>
<rect x="147.60" y="32.5" width="2" height="2" fill="#1f9a1f"/>
<rect x="156.60" y="32.5" width="2" height="2" fill="#1f9a1f"/>
<rect x="159.20" y="32.5" width="2" height="2" fill="#1f9a1f"/>
<rect x="176.10" y="32.5" width="2" height="2" fill="#1f9a1f"/>
<rect x="178.00" y="32.5" width="2" height="2" fill="#1f9a1f"/>
<rect x="179.60" y="32.5" width="2" height="2" fill="#1f9a1f"/>
<rect x="185.70" y="32.5" width="2" height="2" fill="#1f9a1f"/>
<rect x="187.40" y="32.5" width="2" height="2" fill="#1f9a1f"/>
<rect x="190.80" y="32.5" width="2" height="2" fill="#1f9a1f"/>
<rect x="194.50" y="32.5" width="2" height="2" fill="#1f9a1f"/>
<rect x="196.60" y="32.5" width="2" height="2" fill="#1f9a1f"/>
<rect x="204.40" y="32.5" width="2" height="2" fill="#1f9a1f"/>
<rect x="206.80" y="32.5" width="2" height="2" fill="#1f9a1f"/>
<rect x="212.40" y="32.5" width="2" height="2" fill="#1f9a1f"/>
<rect x="214.60" y="32.5" width="2" height="2" fill="#1f9a1f"/>
<rect x="219.70" y="32.5" width="2" height="2" fill="#1f9a1f"/>
<rect x="222.00" y="32.5" width="2" height="2" fill="#1f9a1f"/>
<rect x="224.30" y="32.5" width="2" height="2" fill="#1f9a1f"/>
<rect x="228.60" y="32.5" width="2" height="2" fill="#1f9a1f"/>
<rect x="230.70" y="32.5" width="2" height="2" fill="#1f9a1f"/>
<rect x="232.80" y="32.5" width="2" height="2" fill="#1f9a1f"/>
<rect x="236.70" y="32.5" width="2" height="2" fill="#1f9a1f"/>
<rect x="239.10" y="32.5" width="2" height="2" fill="#1f9a1f"/>
<rect x="98.30" y="45.8" width="2" height="2" fill="#111"/>
<rect x="106.80" y="45.8" width="2" height="2" fill="#111"/>
<rect x="111.50" y="45.8" width="2" height="2" fill="#111"/>
<rect x="124.30" y="45.8" width="2" height="2" fill="#111"/>
<rect x="141.70" y="45.8" width="2" height="2" fill="#111"/>
<rect x="145.90" y="45.8" width="2" height="2" fill="#111"/>
<rect x="148.80" y="45.8" width="2" height="2" fill="#111"/>
<rect x="160.40" y="45.8" width="2" height="2" fill="#111"/>
<rect x="162.90" y="45.8" width="2" height="2" fill="#111"/>
<rect x="165.50" y="45.8" width="2" height="2" fill="#111"/>
<rect x="167.50" y="45.8" width="2" height="2" fill="#111"/>
<rect x="175.00" y="45.8" width="2" height="2" fill="#111"/>
<rect x="184.70" y="45.8" width="2" height="2" fill="#111"/>
<rect x="186.60" y="45.8" width="2" height="2" fill="#111"/>
<rect x="190.30" y="45.8" width="2" height="2" fill="#111"/>
<rect x="197.60" y="45.8" width="2" height="2" fill="#111"/>
<rect x="203.00" y="45.8" width="2" height="2" fill="#111"/>
<rect x="205.30" y="45.8" width="2" height="2" fill="#111"/>
<rect x="207.60" y="45.8" width="2" height="2" fill="#111"/>
<rect x="209.90" y="45.8" width="2" height="2" fill="#111"/>
<rect x="214.10" y="45.8" width="2" height="2" fill="#111"/>
<rect x="222.60" y="45.8" width="2" height="2" fill="#111"/>
<rect x="224.80" y="45.8" width="2" height="2" fill="#111"/>
<rect x="229.40" y="45.8" width="2" height="2" fill="#111"/>
<rect x="231.50" y="45.8" width="2" height="2" fill="#111"/>
<rect x="233.70" y="45.8" width="2" height="2" fill="#111"/>
<rect x="237.40" y="45.8" width="2" height="2" fill="#111"/>
<rect x="239.60" y="45.8" width="2" height="2" fill="#111"/>
<rect x="265.5" y="32.5" width="2" height="2" fill="#1f9a1f"/>
<rect x="265.5" y="45.8" width="2" height="2" fill="#111"/>
<text x="275.30" y="36.40" font-size="7.9" text-anchor="start" fill="#222" textLength="21.40" lengthAdjust="spacingAndGlyphs" >Calcite</text>
<text x="275.30" y="49.70" font-size="7.9" text-anchor="start" fill="#222" textLength="23.80" lengthAdjust="spacingAndGlyphs" >Vaterite</text>
<line x1="263.3" y1="60.20" x2="270.6" y2="60.20" stroke="#80b2f2" stroke-width="0.8"/>
<text x="275.3" y="63.20" font-size="7.9" fill="#222" textLength="108.40" lengthAdjust="spacingAndGlyphs">CaCO<tspan font-size="5.4" dy="1.6">3</tspan><tspan dy="-1.6"> SMPs, autocl. pamidronate</tspan></text>
<line x1="263.3" y1="75.10" x2="270.6" y2="75.10" stroke="#a3a3a3" stroke-width="0.8"/>
<text x="275.3" y="78.10" font-size="7.9" fill="#222" textLength="102.40" lengthAdjust="spacingAndGlyphs">CaCO<tspan font-size="5.4" dy="1.6">3</tspan><tspan dy="-1.6"> MPs, autocl. pamidronate</tspan></text>
<line x1="263.3" y1="90.60" x2="270.6" y2="90.60" stroke="#1b8a1b" stroke-width="0.8"/>
<text x="275.3" y="93.60" font-size="7.9" fill="#222" textLength="63.10" lengthAdjust="spacingAndGlyphs">CaCO<tspan font-size="5.4" dy="1.6">3</tspan><tspan dy="-1.6"> MPs, autocl.</tspan></text>
<line x1="263.3" y1="104.90" x2="270.6" y2="104.90" stroke="#2b77ee" stroke-width="0.8"/>
<text x="275.3" y="107.90" font-size="7.9" fill="#222" textLength="43.70" lengthAdjust="spacingAndGlyphs">CaCO<tspan font-size="5.4" dy="1.6">3</tspan><tspan dy="-1.6"> SMPs</tspan></text>
<line x1="263.3" y1="121.30" x2="270.6" y2="121.30" stroke="#111111" stroke-width="0.8"/>
<text x="275.3" y="124.30" font-size="7.9" fill="#222" textLength="38.70" lengthAdjust="spacingAndGlyphs">CaCO<tspan font-size="5.4" dy="1.6">3</tspan><tspan dy="-1.6"> MPs</tspan></text>
<rect x="34.50" y="259.18" width="5.00" height="1.12" fill="#000"/>
<rect x="49.63" y="253.48" width="5.00" height="6.82" fill="#000"/>
<rect x="57.20" y="232.36" width="5.00" height="27.94" fill="#000"/>
<rect x="64.76" y="231.25" width="5.00" height="29.06" fill="#000"/>
<rect x="72.33" y="235.94" width="5.00" height="24.36" fill="#000"/>
<rect x="79.89" y="220.52" width="5.00" height="39.78" fill="#000"/>
<rect x="87.46" y="230.13" width="5.00" height="30.17" fill="#000"/>
<rect x="95.02" y="242.64" width="5.00" height="17.66" fill="#000"/>
<rect x="102.59" y="241.75" width="5.00" height="18.55" fill="#000"/>
<rect x="110.15" y="240.41" width="5.00" height="19.89" fill="#000"/>
<rect x="117.72" y="252.25" width="5.00" height="8.05" fill="#000"/>
<line x1="32.40" y1="192.85" x2="32.40" y2="260.30" stroke="#444" stroke-width="1"/>
<line x1="31.90" y1="260.30" x2="132.60" y2="260.30" stroke="#222" stroke-width="1.1"/>
<line x1="29.70" y1="193.25" x2="32.40" y2="193.25" stroke="#444" stroke-width="1"/>
<text x="28.40" y="195.85" font-size="6.7" text-anchor="end" fill="#222" font-weight="bold" textLength="6.80" lengthAdjust="spacingAndGlyphs" >30</text>
<line x1="29.70" y1="215.60" x2="32.40" y2="215.60" stroke="#444" stroke-width="1"/>
<text x="28.40" y="218.20" font-size="6.7" text-anchor="end" fill="#222" font-weight="bold" textLength="6.80" lengthAdjust="spacingAndGlyphs" >20</text>
<line x1="29.70" y1="237.95" x2="32.40" y2="237.95" stroke="#444" stroke-width="1"/>
<text x="28.40" y="240.55" font-size="6.7" text-anchor="end" fill="#222" font-weight="bold" textLength="6.80" lengthAdjust="spacingAndGlyphs" >10</text>
<line x1="29.70" y1="260.30" x2="32.40" y2="260.30" stroke="#444" stroke-width="1"/>
<text x="28.40" y="262.90" font-size="6.7" text-anchor="end" fill="#222" font-weight="bold" textLength="3.40" lengthAdjust="spacingAndGlyphs" >0</text>
<line x1="37.00" y1="260.30" x2="37.00" y2="262.90" stroke="#222" stroke-width="1"/>
<text x="37.00" y="270.30" font-size="6.7" text-anchor="middle" fill="#222" font-weight="bold" textLength="9.00" lengthAdjust="spacingAndGlyphs" >0.0</text>
<line x1="67.26" y1="260.30" x2="67.26" y2="262.90" stroke="#222" stroke-width="1"/>
<text x="67.26" y="270.30" font-size="6.7" text-anchor="middle" fill="#222" font-weight="bold" textLength="9.00" lengthAdjust="spacingAndGlyphs" >2.0</text>
<line x1="97.52" y1="260.30" x2="97.52" y2="262.90" stroke="#222" stroke-width="1"/>
<text x="97.52" y="270.30" font-size="6.7" text-anchor="middle" fill="#222" font-weight="bold" textLength="9.00" lengthAdjust="spacingAndGlyphs" >4.0</text>
<line x1="127.78" y1="260.30" x2="127.78" y2="262.90" stroke="#222" stroke-width="1"/>
<text x="127.78" y="270.30" font-size="6.7" text-anchor="middle" fill="#222" font-weight="bold" textLength="9.00" lengthAdjust="spacingAndGlyphs" >6.0</text>
<text x="14.30" y="270.20" font-size="7.6" text-anchor="start" fill="#333" textLength="10.80" lengthAdjust="spacingAndGlyphs" >µm</text>
<text x="18.80" y="227.28" font-size="6.2" text-anchor="middle" fill="#222" textLength="55.70" lengthAdjust="spacingAndGlyphs" transform="rotate(-90 18.80 227.28)" >% Relative frequency</text>
<text x="64.80" y="182.30" font-size="6.6" fill="#222" textLength="34.90" lengthAdjust="spacingAndGlyphs">CaCO<tspan font-size="4.6" dy="1.4">3</tspan><tspan dy="-1.4"> MPs</tspan></text>
<rect x="180.33" y="233.76" width="4.00" height="26.54" fill="#959595" stroke="#2a2a2a" stroke-width="1.0"/>
<rect x="187.89" y="200.46" width="4.00" height="59.84" fill="#959595" stroke="#2a2a2a" stroke-width="1.0"/>
<rect x="195.46" y="229.51" width="4.00" height="30.79" fill="#959595" stroke="#2a2a2a" stroke-width="1.0"/>
<rect x="203.02" y="230.63" width="4.00" height="29.67" fill="#959595" stroke="#2a2a2a" stroke-width="1.0"/>
<rect x="210.59" y="235.32" width="4.00" height="24.98" fill="#959595" stroke="#2a2a2a" stroke-width="1.0"/>
<rect x="218.16" y="246.94" width="4.00" height="13.36" fill="#959595" stroke="#2a2a2a" stroke-width="1.0"/>
<rect x="225.72" y="249.40" width="4.00" height="10.90" fill="#959595" stroke="#2a2a2a" stroke-width="1.0"/>
<rect x="233.28" y="247.84" width="4.00" height="12.46" fill="#959595" stroke="#2a2a2a" stroke-width="1.0"/>
<rect x="240.85" y="255.21" width="4.00" height="5.09" fill="#959595" stroke="#2a2a2a" stroke-width="1.0"/>
<rect x="255.98" y="258.12" width="4.00" height="2.18" fill="#959595" stroke="#2a2a2a" stroke-width="1.0"/>
<line x1="162.60" y1="192.85" x2="162.60" y2="260.30" stroke="#444" stroke-width="1"/>
<line x1="162.10" y1="260.30" x2="262.80" y2="260.30" stroke="#222" stroke-width="1.1"/>
<line x1="159.90" y1="193.25" x2="162.60" y2="193.25" stroke="#444" stroke-width="1"/>
<text x="158.60" y="195.85" font-size="6.7" text-anchor="end" fill="#222" font-weight="bold" textLength="6.80" lengthAdjust="spacingAndGlyphs" >30</text>
<line x1="159.90" y1="215.60" x2="162.60" y2="215.60" stroke="#444" stroke-width="1"/>
<text x="158.60" y="218.20" font-size="6.7" text-anchor="end" fill="#222" font-weight="bold" textLength="6.80" lengthAdjust="spacingAndGlyphs" >20</text>
<line x1="159.90" y1="237.95" x2="162.60" y2="237.95" stroke="#444" stroke-width="1"/>
<text x="158.60" y="240.55" font-size="6.7" text-anchor="end" fill="#222" font-weight="bold" textLength="6.80" lengthAdjust="spacingAndGlyphs" >10</text>
<line x1="159.90" y1="260.30" x2="162.60" y2="260.30" stroke="#444" stroke-width="1"/>
<text x="158.60" y="262.90" font-size="6.7" text-anchor="end" fill="#222" font-weight="bold" textLength="3.40" lengthAdjust="spacingAndGlyphs" >0</text>
<line x1="167.20" y1="260.30" x2="167.20" y2="262.90" stroke="#222" stroke-width="1"/>
<text x="167.20" y="270.30" font-size="6.7" text-anchor="middle" fill="#222" font-weight="bold" textLength="9.00" lengthAdjust="spacingAndGlyphs" >0.0</text>
<line x1="197.46" y1="260.30" x2="197.46" y2="262.90" stroke="#222" stroke-width="1"/>
<text x="197.46" y="270.30" font-size="6.7" text-anchor="middle" fill="#222" font-weight="bold" textLength="9.00" lengthAdjust="spacingAndGlyphs" >2.0</text>
<line x1="227.72" y1="260.30" x2="227.72" y2="262.90" stroke="#222" stroke-width="1"/>
<text x="227.72" y="270.30" font-size="6.7" text-anchor="middle" fill="#222" font-weight="bold" textLength="9.00" lengthAdjust="spacingAndGlyphs" >4.0</text>
<line x1="257.98" y1="260.30" x2="257.98" y2="262.90" stroke="#222" stroke-width="1"/>
<text x="257.98" y="270.30" font-size="6.7" text-anchor="middle" fill="#222" font-weight="bold" textLength="9.00" lengthAdjust="spacingAndGlyphs" >6.0</text>
<text x="144.50" y="270.20" font-size="7.6" text-anchor="start" fill="#333" textLength="10.80" lengthAdjust="spacingAndGlyphs" >µm</text>
<text x="149.00" y="227.28" font-size="6.2" text-anchor="middle" fill="#222" textLength="55.70" lengthAdjust="spacingAndGlyphs" transform="rotate(-90 149.00 227.28)" >% Relative frequency</text>
<text x="155.90" y="182.30" font-size="6.6" fill="#222" textLength="113.10" lengthAdjust="spacingAndGlyphs">CaCO<tspan font-size="4.6" dy="1.4">3</tspan><tspan dy="-1.4"> MPs, autoclaved w. pamidronate</tspan></text>
<rect x="52.47" y="348.40" width="3.10" height="12.10" fill="#4d92ec"/>
<rect x="57.20" y="323.88" width="3.10" height="36.62" fill="#4d92ec"/>
<rect x="61.93" y="307.08" width="3.10" height="53.42" fill="#4d92ec"/>
<rect x="66.66" y="312.12" width="3.10" height="48.38" fill="#4d92ec"/>
<rect x="71.39" y="331.27" width="3.10" height="29.23" fill="#4d92ec"/>
<rect x="76.12" y="323.88" width="3.10" height="36.62" fill="#4d92ec"/>
<rect x="80.85" y="333.96" width="3.10" height="26.54" fill="#4d92ec"/>
<rect x="85.58" y="341.01" width="3.10" height="19.49" fill="#4d92ec"/>
<rect x="90.31" y="350.76" width="3.10" height="9.74" fill="#4d92ec"/>
<rect x="95.04" y="343.70" width="3.10" height="16.80" fill="#4d92ec"/>
<rect x="99.77" y="353.44" width="3.10" height="7.06" fill="#4d92ec"/>
<rect x="104.50" y="353.44" width="3.10" height="7.06" fill="#4d92ec"/>
<rect x="109.23" y="350.76" width="3.10" height="9.74" fill="#4d92ec"/>
<rect x="113.96" y="358.15" width="3.10" height="2.35" fill="#4d92ec"/>
<rect x="118.69" y="358.15" width="3.10" height="2.35" fill="#4d92ec"/>
<rect x="123.42" y="353.44" width="3.10" height="7.06" fill="#4d92ec"/>
<rect x="128.15" y="353.44" width="3.10" height="7.06" fill="#4d92ec"/>
<line x1="32.40" y1="292.90" x2="32.40" y2="360.50" stroke="#444" stroke-width="1"/>
<line x1="31.90" y1="360.50" x2="132.60" y2="360.50" stroke="#222" stroke-width="1.1"/>
<line x1="29.70" y1="293.30" x2="32.40" y2="293.30" stroke="#444" stroke-width="1"/>
<text x="28.40" y="295.90" font-size="6.7" text-anchor="end" fill="#222" font-weight="bold" textLength="6.80" lengthAdjust="spacingAndGlyphs" >20</text>
<line x1="29.70" y1="310.10" x2="32.40" y2="310.10" stroke="#444" stroke-width="1"/>
<text x="28.40" y="312.70" font-size="6.7" text-anchor="end" fill="#222" font-weight="bold" textLength="6.80" lengthAdjust="spacingAndGlyphs" >15</text>
<line x1="29.70" y1="326.90" x2="32.40" y2="326.90" stroke="#444" stroke-width="1"/>
<text x="28.40" y="329.50" font-size="6.7" text-anchor="end" fill="#222" font-weight="bold" textLength="6.80" lengthAdjust="spacingAndGlyphs" >10</text>
<line x1="29.70" y1="343.70" x2="32.40" y2="343.70" stroke="#444" stroke-width="1"/>
<text x="28.40" y="346.30" font-size="6.7" text-anchor="end" fill="#222" font-weight="bold" textLength="3.40" lengthAdjust="spacingAndGlyphs" >5</text>
<line x1="29.70" y1="360.50" x2="32.40" y2="360.50" stroke="#444" stroke-width="1"/>
<text x="28.40" y="363.10" font-size="6.7" text-anchor="end" fill="#222" font-weight="bold" textLength="3.40" lengthAdjust="spacingAndGlyphs" >0</text>
<line x1="35.10" y1="360.50" x2="35.10" y2="363.10" stroke="#222" stroke-width="1"/>
<text x="35.10" y="370.50" font-size="6.7" text-anchor="middle" fill="#222" font-weight="bold" textLength="9.00" lengthAdjust="spacingAndGlyphs" >0.0</text>
<line x1="58.75" y1="360.50" x2="58.75" y2="363.10" stroke="#222" stroke-width="1"/>
<text x="58.75" y="370.50" font-size="6.7" text-anchor="middle" fill="#222" font-weight="bold" textLength="9.00" lengthAdjust="spacingAndGlyphs" >0.5</text>
<line x1="82.40" y1="360.50" x2="82.40" y2="363.10" stroke="#222" stroke-width="1"/>
<text x="82.40" y="370.50" font-size="6.7" text-anchor="middle" fill="#222" font-weight="bold" textLength="9.00" lengthAdjust="spacingAndGlyphs" >1.0</text>
<line x1="106.05" y1="360.50" x2="106.05" y2="363.10" stroke="#222" stroke-width="1"/>
<text x="106.05" y="370.50" font-size="6.7" text-anchor="middle" fill="#222" font-weight="bold" textLength="9.00" lengthAdjust="spacingAndGlyphs" >1.5</text>
<line x1="129.70" y1="360.50" x2="129.70" y2="363.10" stroke="#222" stroke-width="1"/>
<text x="129.70" y="370.50" font-size="6.7" text-anchor="middle" fill="#222" font-weight="bold" textLength="9.00" lengthAdjust="spacingAndGlyphs" >2.0</text>
<text x="14.30" y="370.40" font-size="7.6" text-anchor="start" fill="#333" textLength="10.80" lengthAdjust="spacingAndGlyphs" >µm</text>
<text x="18.80" y="327.40" font-size="6.2" text-anchor="middle" fill="#222" textLength="55.70" lengthAdjust="spacingAndGlyphs" transform="rotate(-90 18.80 327.40)" >% Relative frequency</text>
<text x="63.00" y="283.50" font-size="6.6" fill="#222" textLength="38.80" lengthAdjust="spacingAndGlyphs">CaCO<tspan font-size="4.6" dy="1.4">3</tspan><tspan dy="-1.4"> SMPs</tspan></text>
<rect x="177.89" y="358.55" width="2.80" height="1.95" fill="#93bff4" stroke="#4a8ee8" stroke-width="0.8"/>
<rect x="182.62" y="350.15" width="2.80" height="10.35" fill="#93bff4" stroke="#4a8ee8" stroke-width="0.8"/>
<rect x="187.35" y="337.04" width="2.80" height="23.46" fill="#93bff4" stroke="#4a8ee8" stroke-width="0.8"/>
<rect x="192.08" y="330.66" width="2.80" height="29.84" fill="#93bff4" stroke="#4a8ee8" stroke-width="0.8"/>
<rect x="196.81" y="319.24" width="2.80" height="41.26" fill="#93bff4" stroke="#4a8ee8" stroke-width="0.8"/>
<rect x="201.54" y="327.64" width="2.80" height="32.86" fill="#93bff4" stroke="#4a8ee8" stroke-width="0.8"/>
<rect x="206.27" y="309.83" width="2.80" height="50.67" fill="#93bff4" stroke="#4a8ee8" stroke-width="0.8"/>
<rect x="211.00" y="337.72" width="2.80" height="22.78" fill="#93bff4" stroke="#4a8ee8" stroke-width="0.8"/>
<rect x="215.73" y="337.72" width="2.80" height="22.78" fill="#93bff4" stroke="#4a8ee8" stroke-width="0.8"/>
<rect x="220.46" y="344.10" width="2.80" height="16.40" fill="#93bff4" stroke="#4a8ee8" stroke-width="0.8"/>
<rect x="225.19" y="343.09" width="2.80" height="17.41" fill="#93bff4" stroke="#4a8ee8" stroke-width="0.8"/>
<rect x="229.92" y="344.77" width="2.80" height="15.73" fill="#93bff4" stroke="#4a8ee8" stroke-width="0.8"/>
<rect x="234.65" y="351.16" width="2.80" height="9.34" fill="#93bff4" stroke="#4a8ee8" stroke-width="0.8"/>
<rect x="239.38" y="354.52" width="2.80" height="5.98" fill="#93bff4" stroke="#4a8ee8" stroke-width="0.8"/>
<rect x="244.11" y="357.20" width="2.80" height="3.30" fill="#93bff4" stroke="#4a8ee8" stroke-width="0.8"/>
<rect x="248.84" y="350.15" width="2.80" height="10.35" fill="#93bff4" stroke="#4a8ee8" stroke-width="0.8"/>
<rect x="253.57" y="354.52" width="2.80" height="5.98" fill="#93bff4" stroke="#4a8ee8" stroke-width="0.8"/>
<rect x="258.30" y="357.20" width="2.80" height="3.30" fill="#93bff4" stroke="#4a8ee8" stroke-width="0.8"/>
<line x1="162.40" y1="292.90" x2="162.40" y2="360.50" stroke="#444" stroke-width="1"/>
<line x1="161.90" y1="360.50" x2="262.60" y2="360.50" stroke="#222" stroke-width="1.1"/>
<line x1="159.70" y1="293.30" x2="162.40" y2="293.30" stroke="#444" stroke-width="1"/>
<text x="158.40" y="295.90" font-size="6.7" text-anchor="end" fill="#222" font-weight="bold" textLength="6.80" lengthAdjust="spacingAndGlyphs" >20</text>
<line x1="159.70" y1="310.10" x2="162.40" y2="310.10" stroke="#444" stroke-width="1"/>
<text x="158.40" y="312.70" font-size="6.7" text-anchor="end" fill="#222" font-weight="bold" textLength="6.80" lengthAdjust="spacingAndGlyphs" >15</text>
<line x1="159.70" y1="326.90" x2="162.40" y2="326.90" stroke="#444" stroke-width="1"/>
<text x="158.40" y="329.50" font-size="6.7" text-anchor="end" fill="#222" font-weight="bold" textLength="6.80" lengthAdjust="spacingAndGlyphs" >10</text>
<line x1="159.70" y1="343.70" x2="162.40" y2="343.70" stroke="#444" stroke-width="1"/>
<text x="158.40" y="346.30" font-size="6.7" text-anchor="end" fill="#222" font-weight="bold" textLength="3.40" lengthAdjust="spacingAndGlyphs" >5</text>
<line x1="159.70" y1="360.50" x2="162.40" y2="360.50" stroke="#444" stroke-width="1"/>
<text x="158.40" y="363.10" font-size="6.7" text-anchor="end" fill="#222" font-weight="bold" textLength="3.40" lengthAdjust="spacingAndGlyphs" >0</text>
<line x1="165.10" y1="360.50" x2="165.10" y2="363.10" stroke="#222" stroke-width="1"/>
<text x="165.10" y="370.50" font-size="6.7" text-anchor="middle" fill="#222" font-weight="bold" textLength="9.00" lengthAdjust="spacingAndGlyphs" >0.0</text>
<line x1="188.75" y1="360.50" x2="188.75" y2="363.10" stroke="#222" stroke-width="1"/>
<text x="188.75" y="370.50" font-size="6.7" text-anchor="middle" fill="#222" font-weight="bold" textLength="9.00" lengthAdjust="spacingAndGlyphs" >0.5</text>
<line x1="212.40" y1="360.50" x2="212.40" y2="363.10" stroke="#222" stroke-width="1"/>
<text x="212.40" y="370.50" font-size="6.7" text-anchor="middle" fill="#222" font-weight="bold" textLength="9.00" lengthAdjust="spacingAndGlyphs" >1.0</text>
<line x1="236.05" y1="360.50" x2="236.05" y2="363.10" stroke="#222" stroke-width="1"/>
<text x="236.05" y="370.50" font-size="6.7" text-anchor="middle" fill="#222" font-weight="bold" textLength="9.00" lengthAdjust="spacingAndGlyphs" >1.5</text>
<line x1="259.70" y1="360.50" x2="259.70" y2="363.10" stroke="#222" stroke-width="1"/>
<text x="259.70" y="370.50" font-size="6.7" text-anchor="middle" fill="#222" font-weight="bold" textLength="9.00" lengthAdjust="spacingAndGlyphs" >2.0</text>
<text x="144.30" y="370.40" font-size="7.6" text-anchor="start" fill="#333" textLength="10.80" lengthAdjust="spacingAndGlyphs" >µm</text>
<text x="148.80" y="327.40" font-size="6.2" text-anchor="middle" fill="#222" textLength="55.70" lengthAdjust="spacingAndGlyphs" transform="rotate(-90 148.80 327.40)" >% Relative frequency</text>
<text x="154.30" y="283.50" font-size="6.6" fill="#222" textLength="119.00" lengthAdjust="spacingAndGlyphs">CaCO<tspan font-size="4.6" dy="1.4">3</tspan><tspan dy="-1.4"> SMPs, autoclaved w. pamidronate</tspan></text>
<line x1="309.4" y1="193.6" x2="309.4" y2="284.1" stroke="#222" stroke-width="1.1"/>
<line x1="306.3" y1="194.10" x2="309.4" y2="194.10" stroke="#222" stroke-width="1"/>
<text x="304.60" y="196.00" font-size="6.6" text-anchor="end" fill="#111" font-weight="bold" textLength="7.40" lengthAdjust="spacingAndGlyphs" >15</text>
<line x1="306.3" y1="224.10" x2="309.4" y2="224.10" stroke="#222" stroke-width="1"/>
<text x="304.60" y="226.00" font-size="6.6" text-anchor="end" fill="#111" font-weight="bold" textLength="7.40" lengthAdjust="spacingAndGlyphs" >10</text>
<line x1="306.3" y1="254.10" x2="309.4" y2="254.10" stroke="#222" stroke-width="1"/>
<text x="304.60" y="256.00" font-size="6.6" text-anchor="end" fill="#111" font-weight="bold" textLength="3.70" lengthAdjust="spacingAndGlyphs" >5</text>
<line x1="306.3" y1="284.10" x2="309.4" y2="284.10" stroke="#222" stroke-width="1"/>
<text x="304.60" y="286.00" font-size="6.6" text-anchor="end" fill="#111" font-weight="bold" textLength="3.70" lengthAdjust="spacingAndGlyphs" >0</text>
<line x1="309.20" y1="284.1" x2="309.20" y2="286.6" stroke="#222" stroke-width="1"/>
<text x="309.80" y="295.50" font-size="6.6" text-anchor="middle" fill="#111" font-weight="bold" textLength="11.10" lengthAdjust="spacingAndGlyphs" >0.1</text>
<line x1="354.40" y1="284.1" x2="354.40" y2="286.6" stroke="#222" stroke-width="1"/>
<text x="355.00" y="295.50" font-size="6.6" text-anchor="middle" fill="#111" font-weight="bold" textLength="3.70" lengthAdjust="spacingAndGlyphs" >1</text>
<line x1="399.60" y1="284.1" x2="399.60" y2="286.6" stroke="#222" stroke-width="1"/>
<text x="400.20" y="295.50" font-size="6.6" text-anchor="middle" fill="#111" font-weight="bold" textLength="7.40" lengthAdjust="spacingAndGlyphs" >10</text>
<line x1="444.80" y1="284.1" x2="444.80" y2="286.6" stroke="#222" stroke-width="1"/>
<text x="445.40" y="295.50" font-size="6.6" text-anchor="middle" fill="#111" font-weight="bold" textLength="11.10" lengthAdjust="spacingAndGlyphs" >100</text>
<line x1="309" y1="284.1" x2="445.5" y2="284.1" stroke="#222" stroke-width="1.1"/>
<text x="291.90" y="238.20" font-size="7.2" text-anchor="middle" fill="#111" font-weight="bold" textLength="69.10" lengthAdjust="spacingAndGlyphs" transform="rotate(-90 291.90 238.20)" >Volume density (%)</text>
<text x="377.20" y="307.40" font-size="7.2" text-anchor="middle" fill="#111" font-weight="bold" textLength="53.60" lengthAdjust="spacingAndGlyphs" >Size class (µm)</text>
<polyline points="352.00,284.08 352.50,284.07 353.00,284.07 353.50,284.06 354.00,284.05 354.50,284.03 355.00,284.01 355.50,283.99 356.00,283.97 356.50,283.94 357.00,283.90 357.50,283.86 358.00,283.81 358.50,283.76 359.00,283.69 359.50,283.62 360.00,283.54 360.50,283.45 361.00,283.35 361.50,283.24 362.00,283.13 362.50,283.00 363.00,282.87 363.50,282.73 364.00,282.58 364.50,282.43 365.00,282.28 365.50,282.13 366.00,281.98 366.50,281.83 367.00,281.69 367.50,281.57 368.00,281.45 368.50,281.34 369.00,281.26 369.50,281.18 370.00,281.13 370.50,281.10 371.00,281.09 371.50,281.09 372.00,281.12 372.50,281.17 373.00,281.23 373.50,281.31 374.00,281.41 374.50,281.51 375.00,281.63 375.50,281.76 376.00,281.89 376.50,282.02 377.00,282.15 377.50,282.28 378.00,282.40 378.50,282.52 379.00,282.62 379.50,282.71 380.00,282.79 380.50,282.85 381.00,282.90 381.50,282.92 382.00,282.93 382.50,282.92 383.00,282.88 383.50,282.83 384.00,282.75 384.50,282.64 385.00,282.51 385.50,282.36 386.00,282.17 386.50,281.96 387.00,281.72 387.50,281.44 388.00,281.13 388.50,280.79 389.00,280.41 389.50,279.99 390.00,279.52 390.50,279.02 391.00,278.46 391.50,277.86 392.00,277.22 392.50,276.51 393.00,275.76 393.50,274.95 394.00,274.09 394.50,273.16 395.00,272.18 395.50,271.14 396.00,270.04 396.50,268.89 397.00,267.67 397.50,266.40 398.00,265.07 398.50,263.69 399.00,262.26 399.50,260.78 400.00,259.25 400.50,257.69 401.00,256.09 401.50,254.47 402.00,252.82 402.50,251.15 403.00,249.47 403.50,247.79 404.00,246.12 404.50,244.45 405.00,242.81 405.50,241.20 406.00,239.62 406.50,238.09 407.00,236.62 407.50,235.21 408.00,233.87 408.50,232.62 409.00,231.45 409.50,230.37 410.00,229.40 410.50,228.54 411.00,227.79 411.50,227.16 412.00,226.66 412.50,226.28 413.00,226.03 413.50,225.91 414.00,225.93 414.50,226.09 415.00,226.39 415.50,226.84 416.00,227.42 416.50,228.14 417.00,228.98 417.50,229.95 418.00,231.04 418.50,232.23 419.00,233.53 419.50,234.91 420.00,236.38 420.50,237.91 421.00,239.51 421.50,241.17 422.00,242.86 422.50,244.58 423.00,246.33 423.50,248.09 424.00,249.86 424.50,251.62 425.00,253.36 425.50,255.09 426.00,256.79 426.50,258.45 427.00,260.07 427.50,261.64 428.00,263.16 428.50,264.63 429.00,266.04 429.50,267.40 430.00,268.68 430.50,269.91 431.00,271.07 431.50,272.16 432.00,273.19 432.50,274.16 433.00,275.06 433.50,275.90 434.00,276.69 434.50,277.41 435.00,278.08 435.50,278.69 436.00,279.26 436.50,279.77 437.00,280.24 437.50,280.67 438.00,281.06 438.50,281.41 439.00,281.73 439.50,282.01 440.00,282.27 440.50,282.50" fill="none" stroke="#9a9a9a" stroke-width="1.0"/>
<polyline points="338.00,283.95 338.50,283.92 339.00,283.89 339.50,283.85 340.00,283.82 340.50,283.77 341.00,283.73 341.50,283.67 342.00,283.62 342.50,283.56 343.00,283.49 343.50,283.42 344.00,283.34 344.50,283.26 345.00,283.18 345.50,283.09 346.00,283.01 346.50,282.92 347.00,282.83 347.50,282.73 348.00,282.64 348.50,282.56 349.00,282.47 349.50,282.39 350.00,282.31 350.50,282.24 351.00,282.18 351.50,282.12 352.00,282.08 352.50,282.04 353.00,282.01 353.50,281.99 354.00,281.98 354.50,281.98 355.00,282.00 355.50,282.02 356.00,282.05 356.50,282.08 357.00,282.13 357.50,282.18 358.00,282.23 358.50,282.29 359.00,282.36 359.50,282.42 360.00,282.48 360.50,282.54 361.00,282.59 361.50,282.64 362.00,282.68 362.50,282.71 363.00,282.73 363.50,282.73 364.00,282.72 364.50,282.70 365.00,282.65 365.50,282.59 366.00,282.50 366.50,282.38 367.00,282.24 367.50,282.08 368.00,281.88 368.50,281.64 369.00,281.37 369.50,281.07 370.00,280.72 370.50,280.33 371.00,279.90 371.50,279.41 372.00,278.88 372.50,278.29 373.00,277.65 373.50,276.96 374.00,276.20 374.50,275.38 375.00,274.50 375.50,273.56 376.00,272.55 376.50,271.47 377.00,270.33 377.50,269.13 378.00,267.86 378.50,266.53 379.00,265.14 379.50,263.69 380.00,262.19 380.50,260.64 381.00,259.04 381.50,257.40 382.00,255.73 382.50,254.04 383.00,252.32 383.50,250.60 384.00,248.87 384.50,247.16 385.00,245.45 385.50,243.78 386.00,242.14 386.50,240.55 387.00,239.02 387.50,237.55 388.00,236.16 388.50,234.86 389.00,233.65 389.50,232.55 390.00,231.56 390.50,230.69 391.00,229.95 391.50,229.34 392.00,228.87 392.50,228.53 393.00,228.35 393.50,228.30 394.00,228.45 394.50,228.80 395.00,229.35 395.50,230.10 396.00,231.04 396.50,232.15 397.00,233.43 397.50,234.86 398.00,236.42 398.50,238.11 399.00,239.91 399.50,241.79 400.00,243.74 400.50,245.74 401.00,247.78 401.50,249.84 402.00,251.91 402.50,253.96 403.00,255.98 403.50,257.97 404.00,259.90 404.50,261.78 405.00,263.58 405.50,265.31 406.00,266.96 406.50,268.52 407.00,270.00 407.50,271.38 408.00,272.66 408.50,273.86 409.00,274.96 409.50,275.98 410.00,276.91 410.50,277.76 411.00,278.52 411.50,279.22 412.00,279.84 412.50,280.40 413.00,280.89 413.50,281.33 414.00,281.72 414.50,282.06 415.00,282.36 415.50,282.62 416.00,282.85 416.50,283.04 417.00,283.21 417.50,283.36 418.00,283.48 418.50,283.58 419.00,283.67 419.50,283.75 420.00,283.81 420.50,283.86" fill="none" stroke="#111" stroke-width="1.3"/>
<polyline points="357.00,283.66 357.50,283.59 358.00,283.49 358.50,283.39 359.00,283.27 359.50,283.13 360.00,282.97 360.50,282.79 361.00,282.59 361.50,282.35 362.00,282.09 362.50,281.80 363.00,281.46 363.50,281.09 364.00,280.68 364.50,280.22 365.00,279.71 365.50,279.15 366.00,278.54 366.50,277.86 367.00,277.12 367.50,276.32 368.00,275.45 368.50,274.51 369.00,273.49 369.50,272.41 370.00,271.24 370.50,270.01 371.00,268.69 371.50,267.30 372.00,265.84 372.50,264.31 373.00,262.71 373.50,261.04 374.00,259.32 374.50,257.54 375.00,255.71 375.50,253.85 376.00,251.95 376.50,250.03 377.00,248.10 377.50,246.16 378.00,244.23 378.50,242.33 379.00,240.46 379.50,238.63 380.00,236.86 380.50,235.16 381.00,233.54 381.50,232.01 382.00,230.60 382.50,229.29 383.00,228.12 383.50,227.08 384.00,226.18 384.50,225.44 385.00,224.86 385.50,224.44 386.00,224.18 386.50,224.10 387.00,224.22 387.50,224.59 388.00,225.20 388.50,226.04 389.00,227.10 389.50,228.38 390.00,229.85 390.50,231.49 391.00,233.30 391.50,235.24 392.00,237.31 392.50,239.47 393.00,241.70 393.50,243.99 394.00,246.31 394.50,248.64 395.00,250.97 395.50,253.26 396.00,255.52 396.50,257.72 397.00,259.85 397.50,261.90 398.00,263.86 398.50,265.73 399.00,267.49 399.50,269.14 400.00,270.68 400.50,272.12 401.00,273.44 401.50,274.66 402.00,275.77 402.50,276.78 403.00,277.70 403.50,278.52 404.00,279.26 404.50,279.91 405.00,280.50 405.50,281.01 406.00,281.46 406.50,281.86 407.00,282.20 407.50,282.50 408.00,282.76 408.50,282.98 409.00,283.16 409.50,283.32 410.00,283.46 410.50,283.57 411.00,283.67 411.50,283.75" fill="none" stroke="#111" stroke-width="1.3" stroke-dasharray="2.6,1.8"/>
<polyline points="348.00,283.64 348.50,283.50 349.00,283.32 349.50,283.09 350.00,282.80 350.50,282.44 351.00,282.00 351.50,281.47 352.00,280.82 352.50,280.04 353.00,279.11 353.50,278.01 354.00,276.73 354.50,275.25 355.00,273.54 355.50,271.60 356.00,269.42 356.50,266.98 357.00,264.28 357.50,261.32 358.00,258.12 358.50,254.68 359.00,251.04 359.50,247.23 360.00,243.28 360.50,239.24 361.00,235.16 361.50,231.11 362.00,227.15 362.50,223.34 363.00,219.77 363.50,216.48 364.00,213.56 364.50,211.05 365.00,209.01 365.50,207.49 366.00,206.52 366.50,206.11 367.00,206.22 367.50,206.71 368.00,207.56 368.50,208.77 369.00,210.32 369.50,212.18 370.00,214.33 370.50,216.74 371.00,219.39 371.50,222.22 372.00,225.22 372.50,228.35 373.00,231.56 373.50,234.82 374.00,238.10 374.50,241.38 375.00,244.61 375.50,247.77 376.00,250.84 376.50,253.79 377.00,256.62 377.50,259.30 378.00,261.83 378.50,264.20 379.00,266.40 379.50,268.43 380.00,270.30 380.50,272.00 381.00,273.54 381.50,274.93 382.00,276.18 382.50,277.29 383.00,278.27 383.50,279.14 384.00,279.89 384.50,280.55 385.00,281.12 385.50,281.61 386.00,282.03 386.50,282.39 387.00,282.69 387.50,282.95 388.00,283.16 388.50,283.34 389.00,283.48 389.50,283.60 390.00,283.70 390.50,283.78 391.00,283.85 391.50,283.90 392.00,283.95 392.50,283.98 393.00,284.01 393.50,284.03 394.00,284.04 394.50,284.06 395.00,284.07 395.50,284.08 396.00,284.08 396.50,284.09 397.00,284.09 397.50,284.09 398.00,284.09 398.50,284.10 399.00,284.10 399.50,284.10" fill="none" stroke="#62a8f2" stroke-width="1.0"/>
<polyline points="349.00,283.71 349.50,283.59 350.00,283.44 350.50,283.25 351.00,283.01 351.50,282.72 352.00,282.36 352.50,281.93 353.00,281.40 353.50,280.78 354.00,280.03 354.50,279.16 355.00,278.13 355.50,276.95 356.00,275.59 356.50,274.04 357.00,272.29 357.50,270.33 358.00,268.15 358.50,265.76 359.00,263.16 359.50,260.36 360.00,257.37 360.50,254.20 361.00,250.90 361.50,247.48 362.00,243.99 362.50,240.48 363.00,236.98 363.50,233.56 364.00,230.26 364.50,227.15 365.00,224.27 365.50,221.68 366.00,219.43 366.50,217.56 367.00,216.11 367.50,215.12 368.00,214.59 368.50,214.53 369.00,214.81 369.50,215.41 370.00,216.31 370.50,217.51 371.00,218.98 371.50,220.71 372.00,222.68 372.50,224.85 373.00,227.21 373.50,229.73 374.00,232.37 374.50,235.10 375.00,237.90 375.50,240.74 376.00,243.60 376.50,246.43 377.00,249.23 377.50,251.97 378.00,254.62 378.50,257.18 379.00,259.63 379.50,261.96 380.00,264.16 380.50,266.22 381.00,268.14 381.50,269.92 382.00,271.56 382.50,273.06 383.00,274.42 383.50,275.66 384.00,276.77 384.50,277.76 385.00,278.65 385.50,279.43 386.00,280.12 386.50,280.72 387.00,281.24 387.50,281.70 388.00,282.09 388.50,282.42 389.00,282.71 389.50,282.95 390.00,283.16 390.50,283.33 391.00,283.47 391.50,283.59 392.00,283.69 392.50,283.77 393.00,283.83 393.50,283.89 394.00,283.93 394.50,283.97 395.00,284.00 395.50,284.02 396.00,284.04 396.50,284.05 397.00,284.06 397.50,284.07 398.00,284.08 398.50,284.08 399.00,284.09 399.50,284.09 400.00,284.09 400.50,284.09 401.00,284.10 401.50,284.10 402.00,284.10 402.50,284.10 403.00,284.10 403.50,284.10 404.00,284.10 404.50,284.10 405.00,284.10 405.50,284.10 406.00,284.10 406.50,284.10 407.00,284.10 407.50,284.10 408.00,284.10 408.50,284.10 409.00,284.10 409.50,284.10 410.00,284.10 410.50,284.10 411.00,284.10 411.50,284.10 412.00,284.10 412.50,284.10 413.00,284.10 413.50,284.10 414.00,284.10 414.50,284.10 415.00,284.10 415.50,284.10 416.00,284.10 416.50,284.10 417.00,284.10 417.50,284.10 418.00,284.10 418.50,284.10 419.00,284.10 419.50,284.10 420.00,284.10 420.50,284.10 421.00,284.10 421.50,284.10 422.00,284.10 422.50,284.10 423.00,284.10 423.50,284.10 424.00,284.10 424.50,284.10 425.00,284.10 425.50,284.10 426.00,284.10 426.50,284.10 427.00,284.10 427.50,284.10 428.00,284.10 428.50,284.10 429.00,284.10 429.50,284.10 430.00,284.10 430.50,284.10 431.00,284.10 431.50,284.10 432.00,284.10 432.50,284.10 433.00,284.10 433.50,284.10 434.00,284.10 434.50,284.10 435.00,284.10 435.50,284.10 436.00,284.10 436.50,284.10 437.00,284.10 437.50,284.10 438.00,284.10 438.50,284.10 439.00,284.10 439.50,284.10 440.00,284.10 440.50,284.10 441.00,284.10 441.50,284.10 442.00,284.10 442.50,284.10 443.00,284.10 443.50,284.10 444.00,284.10 444.50,284.10 445.00,284.10 445.50,284.10" fill="none" stroke="#3a8ae8" stroke-width="1.3" stroke-dasharray="2.6,1.8"/>
<line x1="310.9" y1="323.50" x2="321" y2="323.50" stroke="#111" stroke-width="1.1"/>
<text x="326.3" y="326.00" font-size="7.6" fill="#222" textLength="37.30" lengthAdjust="spacingAndGlyphs">CaCO<tspan font-size="5.2" dy="1.6">3</tspan><tspan dy="-1.6"> MPs</tspan></text>
<line x1="310.9" y1="335.00" x2="321" y2="335.00" stroke="#9a9a9a" stroke-width="1.0"/>
<text x="326.3" y="337.50" font-size="7.6" fill="#222" textLength="73.40" lengthAdjust="spacingAndGlyphs">CaCO<tspan font-size="5.2" dy="1.6">3</tspan><tspan dy="-1.6"> MPs, autoclaved</tspan></text>
<line x1="310.9" y1="347.20" x2="321" y2="347.20" stroke="#111" stroke-width="1.0" stroke-dasharray="2,1.8"/>
<text x="326.3" y="349.70" font-size="7.6" fill="#222" textLength="121.20" lengthAdjust="spacingAndGlyphs">CaCO<tspan font-size="5.2" dy="1.6">3</tspan><tspan dy="-1.6"> MPs, autoclaved w. pamidronate</tspan></text>
<line x1="310.9" y1="359.00" x2="321" y2="359.00" stroke="#5aa5f2" stroke-width="1.0"/>
<text x="326.3" y="361.50" font-size="7.6" fill="#222" textLength="41.50" lengthAdjust="spacingAndGlyphs">CaCO<tspan font-size="5.2" dy="1.6">3</tspan><tspan dy="-1.6"> SMPs</tspan></text>
<line x1="310.9" y1="371.20" x2="321" y2="371.20" stroke="#3a8ae8" stroke-width="1.0" stroke-dasharray="2,1.8"/>
<text x="326.3" y="373.70" font-size="7.6" fill="#222" textLength="126.60" lengthAdjust="spacingAndGlyphs">CaCO<tspan font-size="5.2" dy="1.6">3</tspan><tspan dy="-1.6"> SMPs, autoclaved w. pamidronate</tspan></text>
<path d="M8.30,528.5 V409.2 H194.60 V532" fill="none" stroke="#a8a8a8" stroke-width="1"/>
<polygon points="8.80,525.50 9.80,524.00 10.30,430.00 10.90,521.00 11.40,468.00 13.00,455.00 13.70,451.00 14.60,440.00 15.30,416.50 16.00,441.00 17.20,445.00 17.60,447.00 18.80,430.00 19.80,412.70 20.80,440.00 21.40,455.70 22.50,453.00 24.30,451.00 25.20,450.23 26.10,450.08 27.00,449.00 28.50,448.00 29.10,446.20 29.80,448.00 30.60,448.23 31.40,447.83 32.20,447.62 33.00,447.50 33.74,447.71 34.48,447.84 35.22,447.76 35.96,448.15 36.70,448.10 39.00,449.50 40.80,445.00 41.90,428.00 43.00,445.00 44.40,451.00 46.20,450.00 46.90,447.10 47.60,450.00 49.20,453.80 49.96,454.54 50.72,454.57 51.48,454.14 52.24,454.51 53.00,454.50 53.70,454.53 54.40,454.73 55.10,454.86 55.80,455.10 56.50,455.00 57.80,453.80 59.00,456.00 59.75,456.21 60.50,456.44 61.25,456.90 62.00,457.22 62.75,457.72 63.50,457.53 64.25,457.89 65.00,458.00 65.74,458.86 66.47,458.65 67.21,458.74 67.95,459.25 68.68,459.60 69.42,459.26 70.15,459.82 70.89,459.79 71.63,460.22 72.36,460.30 73.10,460.50 75.00,455.00 77.30,418.40 79.50,455.00 80.80,460.50 82.00,455.00 83.30,440.40 84.50,455.00 85.60,463.40 86.33,463.83 87.07,463.93 87.80,464.29 88.53,464.75 89.27,464.69 90.00,465.00 90.73,465.49 91.45,465.60 92.18,465.85 92.91,466.47 93.64,466.84 94.36,466.88 95.09,467.24 95.82,467.88 96.55,467.55 97.27,467.99 98.00,468.20 98.70,468.55 99.41,468.99 100.11,468.95 100.82,469.06 101.52,469.16 102.22,469.56 102.93,469.89 103.63,469.80 104.33,469.98 105.04,470.62 105.74,470.25 106.45,470.39 107.15,470.78 107.85,470.84 108.56,470.86 109.26,471.17 109.97,471.56 110.67,471.64 111.37,471.63 112.08,471.96 112.78,472.16 113.48,472.57 114.19,472.56 114.89,472.58 115.60,472.95 116.30,473.00 117.01,473.61 117.72,474.05 118.43,474.18 119.14,474.10 119.85,474.14 120.56,474.19 121.27,474.81 121.98,475.14 122.69,475.36 123.40,475.26 124.11,475.83 124.82,476.20 125.53,475.77 126.24,476.50 126.95,476.17 127.66,477.06 128.37,477.57 129.08,477.67 129.79,477.21 130.50,477.50 131.21,478.24 131.92,477.76 132.63,478.18 133.34,478.11 134.05,478.14 134.76,478.48 135.47,479.06 136.18,479.03 136.89,479.19 137.60,479.40 138.33,479.42 139.06,479.70 139.79,480.74 140.52,480.28 141.25,481.07 141.98,480.39 142.71,481.69 143.44,481.80 144.16,481.25 144.89,482.96 145.62,481.16 146.35,481.74 147.08,482.95 147.81,483.03 148.54,484.60 149.27,482.89 150.00,482.50 150.73,483.23 151.47,483.51 152.20,484.14 152.93,483.79 153.67,484.22 154.40,484.35 155.13,485.89 155.87,484.77 156.60,486.36 157.33,486.00 158.07,486.20 158.80,486.50 159.53,489.63 160.27,488.91 161.00,488.20 161.73,488.19 162.47,488.49 163.20,488.74 163.93,490.42 164.67,489.85 165.40,490.55 166.13,489.19 166.87,490.61 167.60,490.99 168.33,490.83 169.07,492.45 169.80,491.58 170.53,490.93 171.27,491.57 172.00,492.00 172.75,492.64 173.50,496.83 174.25,493.16 175.00,494.08 175.75,496.73 176.50,496.09 177.25,496.84 178.00,497.63 178.75,501.58 179.50,497.70 180.20,500.08 180.90,504.21 181.60,506.28 182.30,503.79 183.00,503.50 183.75,505.10 184.50,506.70 185.25,508.39 186.00,509.00 188.00,513.00 188.83,515.34 189.67,515.78 190.50,517.70 191.32,517.43 192.15,522.36 192.98,517.78 193.80,518.50 193.80,525.50 193.00,525.5" fill="#b3b3b3" stroke="#7a7a7a" stroke-width="0.8" stroke-linejoin="round"/>
<polyline points="98.00,468.38 98.30,468.47 98.60,468.67 98.90,468.75 99.20,469.06 99.50,468.71 99.80,468.84 100.10,468.86 100.40,469.26 100.70,469.12 101.00,469.03 101.30,469.34 101.60,469.20 101.90,469.56 102.20,469.47 102.50,469.55 102.80,469.56 103.10,469.59 103.40,470.18 103.70,469.99 104.00,470.23 104.30,469.92 104.60,469.96 104.90,470.05 105.20,470.16 105.50,470.27 105.80,470.52 106.10,470.71 106.40,470.64 106.70,470.99 107.00,470.92 107.30,470.79 107.60,470.83 107.90,471.25 108.20,471.52 108.50,471.05 108.80,471.20 109.10,471.38 109.40,471.60 109.70,471.45 110.00,471.50 110.30,471.46 110.60,471.58 110.90,471.60 111.20,471.96 111.50,471.79 111.80,472.02 112.10,472.38 112.40,472.33 112.70,472.16 113.00,472.17 113.30,472.43 113.60,472.48 113.90,472.92 114.20,472.75 114.50,472.69 114.80,472.67 115.10,472.79 115.40,472.99 115.70,473.16 116.00,473.60 116.30,473.01 116.60,473.19 116.90,473.79 117.20,473.60 117.50,473.51 117.80,473.48 118.10,473.83 118.40,473.73 118.70,473.90 119.00,473.86 119.30,473.92 119.60,474.29 119.90,474.65 120.20,474.64 120.50,474.89 120.80,474.77 121.10,474.68 121.40,474.66 121.70,474.92 122.00,474.85 122.30,474.87 122.60,475.33 122.90,475.38 123.20,475.36 123.50,475.17 123.80,475.56 124.10,475.79 124.40,475.65 124.70,475.88 125.00,475.76 125.30,476.53 125.60,475.84 125.90,476.58 126.20,476.70 126.50,476.18 126.80,476.19 127.10,477.19 127.40,476.58 127.70,476.90 128.00,477.06 128.30,476.90 128.60,477.17 128.90,476.92 129.20,477.07 129.50,477.08 129.80,477.41 130.10,477.35 130.40,477.97 130.70,477.48 131.00,477.43 131.30,477.78 131.60,477.84 131.90,478.10 132.20,478.16 132.50,478.07 132.80,478.31 133.10,478.15 133.40,478.45 133.70,478.74 134.00,478.37 134.30,478.87 134.60,479.04 134.90,479.01 135.20,478.85 135.50,479.46 135.80,479.83 136.10,479.90 136.40,479.65 136.70,479.32 137.00,479.37 137.30,480.06 137.60,480.80 137.90,479.78 138.20,480.85 138.50,480.59 138.80,481.03 139.10,480.23 139.40,480.21 139.70,480.79 140.00,481.04 140.30,480.25 140.60,480.33 140.90,480.32 141.20,480.72 141.50,481.93 141.80,480.59 142.10,480.55 142.40,481.14 142.70,480.84 143.00,482.15 143.30,481.79 143.60,481.06 143.90,481.40 144.20,481.12 144.50,481.87 144.80,481.72 145.10,482.97 145.40,481.41 145.70,482.36 146.00,482.05 146.30,481.78 146.60,483.57 146.90,482.22 147.20,482.58 147.50,482.22 147.80,482.97 148.10,482.10 148.40,482.13 148.70,482.45 149.00,482.67 149.30,483.27 149.60,483.64 149.90,482.89 150.20,484.10 150.50,483.87 150.80,482.89 151.10,483.25 151.40,483.31 151.70,484.60 152.00,485.92 152.30,483.57 152.60,484.32 152.90,483.97 153.20,485.90 153.50,485.60 153.80,484.49 154.10,486.10 154.40,486.88 154.70,485.36 155.00,485.18 155.30,485.23 155.60,485.77 155.90,486.71 156.20,486.36 156.50,487.37 156.80,485.95 157.10,487.17 157.40,485.89 157.70,488.12 158.00,487.61 158.30,489.58 158.60,488.42 158.90,488.17 159.20,488.22 159.50,487.71 159.80,487.04 160.10,488.01 160.40,488.39 160.70,488.30 161.00,488.76 161.30,489.10 161.60,489.35 161.90,490.80 162.20,488.00 162.50,489.47 162.80,488.17 163.10,488.47 163.40,488.71 163.70,489.09 164.00,488.88 164.30,490.25 164.60,491.02 164.90,489.20 165.20,489.59 165.50,489.97 165.80,490.67 166.10,492.48 166.40,492.00 166.70,490.16 167.00,491.98 167.30,491.70 167.60,493.09 167.90,491.31 168.20,491.09 168.50,491.30 168.80,492.20 169.10,492.69 169.40,491.46 169.70,492.81 170.00,492.36 170.30,493.20 170.60,495.84 170.90,493.50 171.20,494.46 171.50,493.12 171.80,492.39 172.10,493.04 172.40,492.70 172.70,492.96 173.00,495.03 173.30,493.24 173.60,495.33 173.90,495.09 174.20,498.55 174.50,494.58 174.80,495.96 175.10,495.25 175.40,495.43 175.70,496.57 176.00,495.61 176.30,496.14 176.60,496.30 176.90,498.80 177.20,499.23 177.50,499.17 177.80,499.21 178.10,497.06 178.40,499.13 178.70,497.79 179.00,500.61 179.30,500.45 179.60,498.98 179.90,500.25 180.20,500.68 180.50,500.98 180.80,502.27 181.10,500.41 181.40,507.27 181.70,502.42 182.00,503.57 182.30,503.99 182.60,505.97 182.90,503.97 183.20,504.53 183.50,506.26 183.80,509.90 184.10,507.95 184.40,508.03 184.70,507.56 185.00,511.73 185.30,509.44 185.60,509.13 185.90,509.62 186.20,510.79 186.50,510.11 186.80,511.50 187.10,512.11 187.40,514.90 187.70,514.04 188.00,519.78 188.30,514.04 188.60,516.46 188.90,516.90 189.20,518.70 189.50,522.80 189.80,517.76 190.10,519.88 190.40,522.97" fill="none" stroke="#6a6a6a" stroke-width="0.7"/>
<rect x="13.10" y="412.00" width="4.50" height="5.80" fill="#fff" stroke="#9a9a9a" stroke-width="0.6"/>
<rect x="14.30" y="413.80" width="2.10" height="2.03" fill="#cfcfcf"/>
<rect x="17.60" y="409.50" width="4.40" height="4.50" fill="#fff" stroke="#9a9a9a" stroke-width="0.6"/>
<rect x="18.80" y="411.30" width="2.00" height="1.57" fill="#cfcfcf"/>
<rect x="13.80" y="438.60" width="4.40" height="5.40" fill="#fff" stroke="#9a9a9a" stroke-width="0.6"/>
<rect x="15.00" y="440.40" width="2.00" height="1.89" fill="#cfcfcf"/>
<rect x="26.20" y="437.60" width="5.70" height="4.70" fill="#fff" stroke="#9a9a9a" stroke-width="0.6"/>
<rect x="27.40" y="439.40" width="3.30" height="1.64" fill="#cfcfcf"/>
<rect x="39.60" y="422.20" width="4.80" height="4.80" fill="#fff" stroke="#9a9a9a" stroke-width="0.6"/>
<rect x="40.80" y="424.00" width="2.40" height="1.68" fill="#cfcfcf"/>
<rect x="45.00" y="442.00" width="3.80" height="4.70" fill="#fff" stroke="#9a9a9a" stroke-width="0.6"/>
<rect x="46.20" y="443.80" width="1.40" height="1.64" fill="#cfcfcf"/>
<rect x="55.50" y="448.10" width="4.60" height="4.40" fill="#fff" stroke="#9a9a9a" stroke-width="0.6"/>
<rect x="56.70" y="449.90" width="2.20" height="1.54" fill="#cfcfcf"/>
<rect x="74.60" y="413.00" width="5.20" height="5.40" fill="#fff" stroke="#9a9a9a" stroke-width="0.6"/>
<rect x="75.80" y="414.80" width="2.80" height="1.89" fill="#cfcfcf"/>
<rect x="80.80" y="435.30" width="4.80" height="5.10" fill="#fff" stroke="#9a9a9a" stroke-width="0.6"/>
<rect x="82.00" y="437.10" width="2.40" height="1.78" fill="#cfcfcf"/>
<rect x="10.30" y="472.80" width="97.10" height="51.70" fill="#fff"/>
<polygon points="10.50,524.40 10.50,505.10 11.37,505.75 12.23,507.36 13.10,507.70 13.82,507.21 14.55,506.40 15.28,506.24 16.00,504.50 16.75,504.67 17.50,503.78 18.25,503.80 19.00,502.46 19.75,502.62 20.50,501.45 21.25,501.31 22.00,500.70 23.50,497.00 24.60,489.20 25.80,496.00 27.20,498.70 27.91,499.92 28.62,498.73 29.33,499.35 30.04,500.04 30.75,499.48 31.45,499.60 32.16,499.03 32.87,499.50 33.58,499.60 34.29,499.45 35.00,499.50 35.71,499.78 36.43,499.65 37.14,500.14 37.86,500.28 38.57,500.20 39.29,500.66 40.00,500.50 40.79,500.93 41.58,501.62 42.36,501.17 43.15,501.13 43.94,501.17 44.72,501.85 45.51,501.08 46.30,501.30 47.17,501.89 48.03,502.48 48.90,503.20 50.50,495.00 51.80,472.80 52.52,472.96 53.23,472.65 53.95,473.88 54.67,472.87 55.38,472.99 56.10,472.80 57.50,495.00 59.10,503.20 60.70,508.30 62.50,505.00 63.33,503.79 64.17,501.54 65.00,500.00 66.50,505.00 67.33,507.17 68.17,509.15 69.00,510.90 69.75,511.22 70.50,512.59 71.25,511.72 72.00,512.12 72.75,512.26 73.50,512.57 74.25,513.22 75.00,513.00 75.79,513.50 76.57,514.32 77.36,514.93 78.14,514.87 78.93,515.26 79.71,515.54 80.50,515.30 81.25,516.64 82.00,515.11 82.75,514.93 83.50,515.31 84.25,515.48 85.00,515.00 85.75,515.39 86.50,514.41 87.25,513.55 88.00,513.00 89.70,511.50 91.50,514.00 92.23,514.98 92.97,516.61 93.70,517.73 94.43,517.47 95.17,518.25 95.90,519.20 96.72,519.38 97.54,520.18 98.36,520.94 99.18,520.59 100.00,521.00 100.76,521.47 101.53,522.06 102.29,522.37 103.05,521.95 103.81,522.51 104.57,522.80 105.34,522.95 106.10,523.00 107.00,523.50 107.00,524.40" fill="#b0b0b0" stroke="#6e6e6e" stroke-width="0.8" stroke-linejoin="round"/>
<rect x="10.60" y="472.80" width="96.80" height="51.70" fill="none" stroke="#cf4d4d" stroke-width="1.1"/>
<path d="M18.20,475.40 H31.00 V486.60 H26.00 L24.60,489.20 L23.20,486.60 H18.20 Z" fill="#fff" stroke="#111" stroke-width="1.2"/>
<text x="24.60" y="484.00" font-size="8.4" text-anchor="middle" fill="#111" textLength="9.60" lengthAdjust="spacingAndGlyphs" >Na</text>
<path d="M61.40,486.30 H69.30 V497.50 H66.75 L65.00,500.00 L63.95,497.50 H61.40 Z" fill="#fff" stroke="#111" stroke-width="1.2"/>
<text x="65.35" y="494.90" font-size="8.4" text-anchor="middle" fill="#111" textLength="4.90" lengthAdjust="spacingAndGlyphs" >P</text>
<path d="M84.80,497.80 H95.60 V509.00 H91.60 L89.70,511.50 L88.80,509.00 H84.80 Z" fill="#fff" stroke="#111" stroke-width="1.2"/>
<text x="90.20" y="506.40" font-size="8.4" text-anchor="middle" fill="#111" textLength="9.60" lengthAdjust="spacingAndGlyphs" >Cl</text>
<line x1="9.20" y1="525.8" x2="192.20" y2="525.8" stroke="#888" stroke-width="0.8"/>
<line x1="10.70" y1="525.8" x2="10.70" y2="528.3" stroke="#333" stroke-width="0.8"/>
<text x="10.70" y="535.90" font-size="8.5" text-anchor="middle" fill="#222" textLength="4.60" lengthAdjust="spacingAndGlyphs" >0</text>
<line x1="14.34" y1="525.8" x2="14.34" y2="527.6" stroke="#333" stroke-width="0.8"/>
<line x1="17.97" y1="525.8" x2="17.97" y2="527.6" stroke="#333" stroke-width="0.8"/>
<line x1="21.61" y1="525.8" x2="21.61" y2="527.6" stroke="#333" stroke-width="0.8"/>
<line x1="25.24" y1="525.8" x2="25.24" y2="527.6" stroke="#333" stroke-width="0.8"/>
<line x1="28.88" y1="525.8" x2="28.88" y2="528.3" stroke="#333" stroke-width="0.8"/>
<text x="28.88" y="535.90" font-size="8.5" text-anchor="middle" fill="#222" textLength="4.60" lengthAdjust="spacingAndGlyphs" >1</text>
<line x1="32.52" y1="525.8" x2="32.52" y2="527.6" stroke="#333" stroke-width="0.8"/>
<line x1="36.15" y1="525.8" x2="36.15" y2="527.6" stroke="#333" stroke-width="0.8"/>
<line x1="39.79" y1="525.8" x2="39.79" y2="527.6" stroke="#333" stroke-width="0.8"/>
<line x1="43.42" y1="525.8" x2="43.42" y2="527.6" stroke="#333" stroke-width="0.8"/>
<line x1="47.06" y1="525.8" x2="47.06" y2="528.3" stroke="#333" stroke-width="0.8"/>
<text x="47.06" y="535.90" font-size="8.5" text-anchor="middle" fill="#222" textLength="4.60" lengthAdjust="spacingAndGlyphs" >2</text>
<line x1="50.70" y1="525.8" x2="50.70" y2="527.6" stroke="#333" stroke-width="0.8"/>
<line x1="54.33" y1="525.8" x2="54.33" y2="527.6" stroke="#333" stroke-width="0.8"/>
<line x1="57.97" y1="525.8" x2="57.97" y2="527.6" stroke="#333" stroke-width="0.8"/>
<line x1="61.60" y1="525.8" x2="61.60" y2="527.6" stroke="#333" stroke-width="0.8"/>
<line x1="65.24" y1="525.8" x2="65.24" y2="528.3" stroke="#333" stroke-width="0.8"/>
<text x="65.24" y="535.90" font-size="8.5" text-anchor="middle" fill="#222" textLength="4.60" lengthAdjust="spacingAndGlyphs" >3</text>
<line x1="68.88" y1="525.8" x2="68.88" y2="527.6" stroke="#333" stroke-width="0.8"/>
<line x1="72.51" y1="525.8" x2="72.51" y2="527.6" stroke="#333" stroke-width="0.8"/>
<line x1="76.15" y1="525.8" x2="76.15" y2="527.6" stroke="#333" stroke-width="0.8"/>
<line x1="79.78" y1="525.8" x2="79.78" y2="527.6" stroke="#333" stroke-width="0.8"/>
<line x1="83.42" y1="525.8" x2="83.42" y2="528.3" stroke="#333" stroke-width="0.8"/>
<text x="83.42" y="535.90" font-size="8.5" text-anchor="middle" fill="#222" textLength="4.60" lengthAdjust="spacingAndGlyphs" >4</text>
<line x1="87.06" y1="525.8" x2="87.06" y2="527.6" stroke="#333" stroke-width="0.8"/>
<line x1="90.69" y1="525.8" x2="90.69" y2="527.6" stroke="#333" stroke-width="0.8"/>
<line x1="94.33" y1="525.8" x2="94.33" y2="527.6" stroke="#333" stroke-width="0.8"/>
<line x1="97.96" y1="525.8" x2="97.96" y2="527.6" stroke="#333" stroke-width="0.8"/>
<line x1="101.60" y1="525.8" x2="101.60" y2="528.3" stroke="#333" stroke-width="0.8"/>
<text x="101.60" y="535.90" font-size="8.5" text-anchor="middle" fill="#222" textLength="4.60" lengthAdjust="spacingAndGlyphs" >5</text>
<line x1="105.24" y1="525.8" x2="105.24" y2="527.6" stroke="#333" stroke-width="0.8"/>
<line x1="108.87" y1="525.8" x2="108.87" y2="527.6" stroke="#333" stroke-width="0.8"/>
<line x1="112.51" y1="525.8" x2="112.51" y2="527.6" stroke="#333" stroke-width="0.8"/>
<line x1="116.14" y1="525.8" x2="116.14" y2="527.6" stroke="#333" stroke-width="0.8"/>
<line x1="119.78" y1="525.8" x2="119.78" y2="528.3" stroke="#333" stroke-width="0.8"/>
<text x="119.78" y="535.90" font-size="8.5" text-anchor="middle" fill="#222" textLength="4.60" lengthAdjust="spacingAndGlyphs" >6</text>
<line x1="123.42" y1="525.8" x2="123.42" y2="527.6" stroke="#333" stroke-width="0.8"/>
<line x1="127.05" y1="525.8" x2="127.05" y2="527.6" stroke="#333" stroke-width="0.8"/>
<line x1="130.69" y1="525.8" x2="130.69" y2="527.6" stroke="#333" stroke-width="0.8"/>
<line x1="134.32" y1="525.8" x2="134.32" y2="527.6" stroke="#333" stroke-width="0.8"/>
<line x1="137.96" y1="525.8" x2="137.96" y2="528.3" stroke="#333" stroke-width="0.8"/>
<text x="137.96" y="535.90" font-size="8.5" text-anchor="middle" fill="#222" textLength="4.60" lengthAdjust="spacingAndGlyphs" >7</text>
<line x1="141.60" y1="525.8" x2="141.60" y2="527.6" stroke="#333" stroke-width="0.8"/>
<line x1="145.23" y1="525.8" x2="145.23" y2="527.6" stroke="#333" stroke-width="0.8"/>
<line x1="148.87" y1="525.8" x2="148.87" y2="527.6" stroke="#333" stroke-width="0.8"/>
<line x1="152.50" y1="525.8" x2="152.50" y2="527.6" stroke="#333" stroke-width="0.8"/>
<line x1="156.14" y1="525.8" x2="156.14" y2="528.3" stroke="#333" stroke-width="0.8"/>
<text x="156.14" y="535.90" font-size="8.5" text-anchor="middle" fill="#222" textLength="4.60" lengthAdjust="spacingAndGlyphs" >8</text>
<line x1="159.78" y1="525.8" x2="159.78" y2="527.6" stroke="#333" stroke-width="0.8"/>
<line x1="163.41" y1="525.8" x2="163.41" y2="527.6" stroke="#333" stroke-width="0.8"/>
<line x1="167.05" y1="525.8" x2="167.05" y2="527.6" stroke="#333" stroke-width="0.8"/>
<line x1="170.68" y1="525.8" x2="170.68" y2="527.6" stroke="#333" stroke-width="0.8"/>
<line x1="174.32" y1="525.8" x2="174.32" y2="528.3" stroke="#333" stroke-width="0.8"/>
<text x="174.32" y="535.90" font-size="8.5" text-anchor="middle" fill="#222" textLength="4.60" lengthAdjust="spacingAndGlyphs" >9</text>
<line x1="177.96" y1="525.8" x2="177.96" y2="527.6" stroke="#333" stroke-width="0.8"/>
<line x1="181.59" y1="525.8" x2="181.59" y2="527.6" stroke="#333" stroke-width="0.8"/>
<line x1="185.23" y1="525.8" x2="185.23" y2="527.6" stroke="#333" stroke-width="0.8"/>
<line x1="188.86" y1="525.8" x2="188.86" y2="527.6" stroke="#333" stroke-width="0.8"/>
<text x="181.90" y="537.50" font-size="6.5" text-anchor="start" fill="#222" textLength="10.60" lengthAdjust="spacingAndGlyphs" >keV</text>
<text x="106.70" y="424.20" font-size="10.8" text-anchor="start" fill="#111" textLength="81.30" lengthAdjust="spacingAndGlyphs" >Spherical particle</text>
<path d="M199.80,528.5 V409.2 H386.40 V532" fill="none" stroke="#a8a8a8" stroke-width="1"/>
<polygon points="200.10,525.50 201.10,524.00 202.20,424.00 202.20,521.00 202.70,468.00 204.30,455.00 205.00,451.00 205.90,440.00 206.60,413.60 207.30,441.00 208.50,445.00 208.90,447.00 210.10,430.00 211.10,412.70 212.10,440.00 212.70,455.70 213.80,451.50 215.60,449.50 216.50,448.85 217.40,448.64 218.30,447.50 219.80,446.50 220.40,444.70 221.10,446.50 221.90,446.95 222.70,446.79 223.50,446.02 224.30,446.00 225.04,446.31 225.78,446.43 226.52,446.66 227.26,446.45 228.00,446.60 230.30,448.00 232.10,443.50 233.00,425.10 234.30,443.50 235.70,449.50 237.50,448.50 238.20,445.60 238.90,448.50 240.50,452.30 241.26,452.65 242.02,452.69 242.78,452.85 243.54,453.40 244.30,453.00 245.00,453.59 245.70,453.69 246.40,453.56 247.10,454.13 247.80,453.50 249.10,452.30 250.30,454.50 251.05,455.10 251.80,455.28 252.55,455.63 253.30,455.63 254.05,455.71 254.80,456.20 255.55,456.13 256.30,456.50 257.04,456.66 257.77,457.18 258.51,457.11 259.25,457.91 259.98,457.82 260.72,457.93 261.45,458.17 262.19,458.54 262.93,458.89 263.66,459.05 264.40,459.00 266.30,453.50 268.60,412.70 270.80,453.50 272.10,459.00 273.30,453.50 274.60,432.80 275.80,453.50 276.90,461.90 277.63,462.25 278.37,462.38 279.10,462.73 279.83,463.11 280.57,463.21 281.30,463.50 282.03,463.77 282.75,463.76 283.48,464.23 284.21,464.13 284.94,464.48 285.66,464.71 286.39,464.57 287.12,465.15 287.85,464.81 288.57,464.96 289.30,465.20 290.00,465.34 290.71,465.55 291.41,466.16 292.12,466.37 292.82,466.48 293.52,466.65 294.23,467.04 294.93,466.84 295.63,466.81 296.34,466.97 297.04,467.52 297.75,467.58 298.45,467.51 299.15,467.94 299.86,468.10 300.56,468.29 301.27,468.58 301.97,468.43 302.67,468.59 303.38,468.78 304.08,469.13 304.78,469.34 305.49,469.74 306.19,469.77 306.90,469.72 307.60,470.00 308.31,470.14 309.02,470.38 309.73,470.73 310.44,471.33 311.15,471.05 311.86,471.32 312.57,471.45 313.28,471.95 313.99,472.37 314.70,472.43 315.41,472.53 316.12,472.47 316.83,472.99 317.54,473.37 318.25,473.30 318.96,473.40 319.67,474.38 320.38,474.20 321.09,474.08 321.80,474.58 322.51,474.83 323.22,474.71 323.93,475.61 324.64,474.99 325.35,475.31 326.06,476.01 326.77,476.86 327.48,476.03 328.19,476.06 328.90,476.40 329.63,477.43 330.36,477.38 331.09,479.07 331.82,478.02 332.55,477.27 333.28,477.93 334.01,478.95 334.74,477.94 335.46,478.51 336.19,478.78 336.92,478.11 337.65,478.48 338.38,478.47 339.11,479.98 339.84,479.78 340.57,480.12 341.30,479.50 342.03,479.55 342.77,479.88 343.50,481.12 344.23,481.55 344.97,481.26 345.70,482.86 346.43,482.38 347.17,482.69 347.90,483.82 348.63,485.26 349.37,484.94 350.10,483.50 350.83,484.42 351.57,485.51 352.30,485.52 353.03,484.33 353.77,486.67 354.50,485.57 355.23,488.69 355.97,487.14 356.70,488.15 357.43,487.00 358.17,486.89 358.90,487.95 359.63,487.84 360.37,488.33 361.10,487.89 361.83,489.21 362.57,489.40 363.30,489.00 364.05,492.11 364.80,491.77 365.55,491.29 366.30,491.82 367.05,491.60 367.80,492.64 368.55,492.67 369.30,495.59 370.05,494.83 370.80,494.70 371.50,499.12 372.20,499.55 372.90,498.98 373.60,500.90 374.30,500.50 375.05,502.49 375.80,504.89 376.55,504.02 377.30,506.00 379.30,510.00 380.13,512.90 380.97,514.97 381.80,514.70 382.62,515.71 383.45,516.54 384.28,515.62 385.10,515.50 385.10,522.50 384.30,525.5" fill="#b3b3b3" stroke="#7a7a7a" stroke-width="0.8" stroke-linejoin="round"/>
<polyline points="289.30,465.78 289.60,466.18 289.90,465.70 290.20,465.90 290.50,465.91 290.80,465.72 291.10,465.69 291.40,465.84 291.70,466.24 292.00,466.17 292.30,466.00 292.60,466.28 292.90,466.55 293.20,466.34 293.50,466.63 293.80,466.40 294.10,466.59 294.40,467.02 294.70,467.23 295.00,466.74 295.30,467.09 295.60,466.98 295.90,467.17 296.20,467.25 296.50,467.35 296.80,467.28 297.10,467.61 297.40,467.94 297.70,468.05 298.00,467.50 298.30,468.18 298.60,467.71 298.90,468.07 299.20,467.80 299.50,468.25 299.80,467.97 300.10,468.53 300.40,468.38 300.70,469.12 301.00,468.38 301.30,468.45 301.60,468.70 301.90,468.78 302.20,468.67 302.50,468.93 302.80,468.83 303.10,468.91 303.40,469.24 303.70,469.68 304.00,469.64 304.30,469.18 304.60,469.51 304.90,469.63 305.20,469.49 305.50,469.76 305.80,470.27 306.10,470.27 306.40,469.74 306.70,469.78 307.00,469.88 307.30,470.26 307.60,470.00 307.90,470.43 308.20,470.42 308.50,470.55 308.80,470.61 309.10,470.70 309.40,471.03 309.70,470.75 310.00,470.93 310.30,471.27 310.60,471.15 310.90,471.32 311.20,471.26 311.50,471.26 311.80,471.38 312.10,471.42 312.40,471.60 312.70,471.64 313.00,471.99 313.30,471.90 313.60,471.83 313.90,472.21 314.20,472.14 314.50,472.08 314.80,472.25 315.10,472.79 315.40,472.50 315.70,472.70 316.00,472.68 316.30,472.74 316.60,472.71 316.90,472.99 317.20,473.05 317.50,473.17 317.80,473.25 318.10,473.28 318.40,473.60 318.70,473.34 319.00,473.91 319.30,473.80 319.60,474.30 319.90,473.80 320.20,474.19 320.50,474.30 320.80,474.57 321.10,474.10 321.40,474.34 321.70,474.57 322.00,475.07 322.30,474.47 322.60,474.83 322.90,474.73 323.20,475.38 323.50,475.30 323.80,475.52 324.10,474.99 324.40,475.21 324.70,475.44 325.00,475.79 325.30,475.51 325.60,476.04 325.90,476.51 326.20,475.73 326.50,475.97 326.80,476.64 327.10,476.23 327.40,476.80 327.70,476.79 328.00,476.31 328.30,477.27 328.60,476.55 328.90,477.58 329.20,477.67 329.50,476.88 329.80,478.01 330.10,476.79 330.40,478.01 330.70,476.89 331.00,477.03 331.30,477.24 331.60,477.29 331.90,477.43 332.20,477.70 332.50,478.06 332.80,479.18 333.10,479.50 333.40,478.29 333.70,478.37 334.00,478.87 334.30,478.03 334.60,478.06 334.90,478.45 335.20,478.04 335.50,478.26 335.80,478.37 336.10,478.83 336.40,478.35 336.70,478.63 337.00,478.79 337.30,479.20 337.60,479.15 337.90,478.88 338.20,478.92 338.50,479.15 338.80,479.53 339.10,479.17 339.40,480.22 339.70,481.66 340.00,479.74 340.30,479.41 340.60,481.42 340.90,480.81 341.20,480.28 341.50,482.15 341.80,480.36 342.10,480.03 342.40,480.87 342.70,480.19 343.00,480.51 343.30,480.86 343.60,480.76 343.90,482.02 344.20,483.17 344.50,481.48 344.80,483.12 345.10,481.99 345.40,482.40 345.70,481.88 346.00,481.69 346.30,482.37 346.60,482.58 346.90,482.36 347.20,483.09 347.50,485.39 347.80,482.53 348.10,483.24 348.40,484.41 348.70,484.68 349.00,484.19 349.30,484.14 349.60,483.65 349.90,484.52 350.20,484.68 350.50,486.02 350.80,484.07 351.10,484.93 351.40,487.26 351.70,484.61 352.00,485.47 352.30,485.09 352.60,485.42 352.90,485.16 353.20,485.09 353.50,487.92 353.80,486.00 354.10,487.44 354.40,487.89 354.70,486.65 355.00,487.57 355.30,486.65 355.60,488.17 355.90,486.49 356.20,486.96 356.50,486.93 356.80,487.31 357.10,487.27 357.40,486.67 357.70,490.05 358.00,487.77 358.30,488.01 358.60,490.56 358.90,487.18 359.20,487.75 359.50,490.31 359.80,489.60 360.10,488.90 360.40,489.73 360.70,488.68 361.00,490.65 361.30,491.97 361.60,490.87 361.90,490.66 362.20,490.68 362.50,493.65 362.80,492.21 363.10,490.89 363.40,489.43 363.70,490.48 364.00,490.87 364.30,490.50 364.60,492.34 364.90,492.66 365.20,491.43 365.50,491.59 365.80,491.12 366.10,492.31 366.40,492.80 366.70,491.79 367.00,492.23 367.30,496.04 367.60,496.71 367.90,492.63 368.20,495.27 368.50,494.65 368.80,496.82 369.10,493.77 369.40,500.48 369.70,494.63 370.00,496.47 370.30,494.52 370.60,497.42 370.90,498.12 371.20,496.48 371.50,499.61 371.80,501.01 372.10,499.79 372.40,500.24 372.70,499.33 373.00,501.13 373.30,503.04 373.60,502.01 373.90,499.96 374.20,506.79 374.50,500.94 374.80,503.48 375.10,503.13 375.40,506.10 375.70,503.34 376.00,505.83 376.30,506.70 376.60,507.27 376.90,506.17 377.20,506.33 377.50,506.68 377.80,508.67 378.10,507.99 378.40,508.82 378.70,510.08 379.00,510.32 379.30,510.53 379.60,513.71 379.90,511.63 380.20,517.41 380.50,513.11 380.80,513.21 381.10,514.46 381.40,517.76 381.70,515.30" fill="none" stroke="#6a6a6a" stroke-width="0.7"/>
<rect x="204.40" y="411.20" width="4.50" height="5.00" fill="#fff" stroke="#9a9a9a" stroke-width="0.6"/>
<rect x="205.60" y="413.00" width="2.10" height="1.75" fill="#cfcfcf"/>
<rect x="209.40" y="409.50" width="4.40" height="4.50" fill="#fff" stroke="#9a9a9a" stroke-width="0.6"/>
<rect x="210.60" y="411.30" width="2.00" height="1.57" fill="#cfcfcf"/>
<rect x="205.60" y="438.60" width="4.40" height="5.40" fill="#fff" stroke="#9a9a9a" stroke-width="0.6"/>
<rect x="206.80" y="440.40" width="2.00" height="1.89" fill="#cfcfcf"/>
<rect x="218.00" y="437.60" width="5.70" height="4.70" fill="#fff" stroke="#9a9a9a" stroke-width="0.6"/>
<rect x="219.20" y="439.40" width="3.30" height="1.64" fill="#cfcfcf"/>
<rect x="230.70" y="421.60" width="4.80" height="5.00" fill="#fff" stroke="#9a9a9a" stroke-width="0.6"/>
<rect x="231.90" y="423.40" width="2.40" height="1.75" fill="#cfcfcf"/>
<rect x="236.80" y="442.00" width="3.80" height="4.70" fill="#fff" stroke="#9a9a9a" stroke-width="0.6"/>
<rect x="238.00" y="443.80" width="1.40" height="1.64" fill="#cfcfcf"/>
<rect x="247.30" y="448.10" width="4.60" height="4.40" fill="#fff" stroke="#9a9a9a" stroke-width="0.6"/>
<rect x="248.50" y="449.90" width="2.20" height="1.54" fill="#cfcfcf"/>
<rect x="266.10" y="410.00" width="5.20" height="5.00" fill="#fff" stroke="#9a9a9a" stroke-width="0.6"/>
<rect x="267.30" y="411.80" width="2.80" height="1.75" fill="#cfcfcf"/>
<rect x="272.20" y="430.00" width="4.80" height="5.00" fill="#fff" stroke="#9a9a9a" stroke-width="0.6"/>
<rect x="273.40" y="431.80" width="2.40" height="1.75" fill="#cfcfcf"/>
<rect x="201.20" y="471.60" width="97.10" height="52.70" fill="#fff"/>
<polygon points="201.50,524.20 201.50,512.90 202.33,512.38 203.17,510.94 204.00,509.00 204.72,508.79 205.44,507.39 206.16,507.05 206.88,506.24 207.60,504.40 208.32,503.75 209.05,502.88 209.78,501.13 210.50,500.00 211.80,495.00 212.90,492.20 214.00,496.00 215.00,499.00 215.70,499.18 216.40,498.92 217.10,499.35 217.80,499.92 218.50,498.92 219.20,499.32 219.90,498.40 220.60,498.61 221.30,499.11 222.00,498.00 222.72,498.50 223.44,497.84 224.15,497.62 224.87,498.32 225.59,497.86 226.31,497.25 227.03,497.54 227.75,497.53 228.46,498.32 229.18,496.90 229.90,496.90 230.72,497.54 231.54,497.80 232.36,498.65 233.18,497.97 234.00,498.00 234.85,498.88 235.70,499.30 236.55,500.19 237.40,499.00 239.00,490.00 240.60,471.80 241.38,472.55 242.15,471.73 242.92,472.36 243.70,471.80 245.00,488.00 246.50,499.00 248.00,502.20 248.75,502.32 249.50,502.28 250.25,502.10 251.00,502.00 253.30,501.20 254.20,501.88 255.10,502.70 256.00,503.00 256.73,504.13 257.45,504.73 258.18,505.40 258.90,505.25 259.62,506.32 260.35,506.90 261.07,506.35 261.80,506.50 262.57,506.97 263.35,506.82 264.12,506.86 264.90,507.15 265.68,507.81 266.45,506.89 267.23,507.07 268.00,507.00 268.75,508.41 269.50,508.06 270.25,508.29 271.00,508.04 271.75,507.74 272.50,507.80 273.25,508.00 274.00,508.00 274.76,508.52 275.52,508.39 276.28,508.45 277.04,508.67 277.80,508.60 278.60,508.86 279.40,510.23 280.20,509.68 281.00,510.00 281.71,511.39 282.42,511.20 283.13,511.71 283.84,511.98 284.56,512.22 285.27,512.75 285.98,513.11 286.69,514.13 287.40,514.00 288.10,514.57 288.80,514.69 289.50,514.79 290.20,515.18 290.90,516.91 291.60,516.33 292.30,515.58 293.00,516.00 293.82,517.57 294.63,516.71 295.45,516.98 296.27,517.20 297.08,517.02 297.90,517.40 297.90,524.20" fill="#b0b0b0" stroke="#6e6e6e" stroke-width="0.8" stroke-linejoin="round"/>
<rect x="201.50" y="471.60" width="96.80" height="52.70" fill="none" stroke="#cf4d4d" stroke-width="1.1"/>
<path d="M207.60,478.20 H219.30 V489.50 H214.85 L212.90,492.20 L212.05,489.50 H207.60 Z" fill="#fff" stroke="#111" stroke-width="1.2"/>
<text x="213.45" y="486.85" font-size="8.4" text-anchor="middle" fill="#111" textLength="9.60" lengthAdjust="spacingAndGlyphs" >Na</text>
<path d="M249.00,487.30 H257.60 V496.90 H254.70 L253.30,501.20 L251.90,496.90 H249.00 Z" fill="#fff" stroke="#111" stroke-width="1.2"/>
<text x="253.30" y="495.10" font-size="8.4" text-anchor="middle" fill="#111" textLength="4.90" lengthAdjust="spacingAndGlyphs" >P</text>
<path d="M273.30,495.30 H283.50 V506.20 H279.80 L277.80,508.60 L277.00,506.20 H273.30 Z" fill="#fff" stroke="#111" stroke-width="1.2"/>
<text x="278.40" y="503.75" font-size="8.4" text-anchor="middle" fill="#111" textLength="9.60" lengthAdjust="spacingAndGlyphs" >Cl</text>
<line x1="200.50" y1="525.8" x2="383.50" y2="525.8" stroke="#888" stroke-width="0.8"/>
<line x1="202.00" y1="525.8" x2="202.00" y2="528.3" stroke="#333" stroke-width="0.8"/>
<text x="202.00" y="535.90" font-size="8.5" text-anchor="middle" fill="#222" textLength="4.60" lengthAdjust="spacingAndGlyphs" >0</text>
<line x1="205.64" y1="525.8" x2="205.64" y2="527.6" stroke="#333" stroke-width="0.8"/>
<line x1="209.27" y1="525.8" x2="209.27" y2="527.6" stroke="#333" stroke-width="0.8"/>
<line x1="212.91" y1="525.8" x2="212.91" y2="527.6" stroke="#333" stroke-width="0.8"/>
<line x1="216.54" y1="525.8" x2="216.54" y2="527.6" stroke="#333" stroke-width="0.8"/>
<line x1="220.18" y1="525.8" x2="220.18" y2="528.3" stroke="#333" stroke-width="0.8"/>
<text x="220.18" y="535.90" font-size="8.5" text-anchor="middle" fill="#222" textLength="4.60" lengthAdjust="spacingAndGlyphs" >1</text>
<line x1="223.82" y1="525.8" x2="223.82" y2="527.6" stroke="#333" stroke-width="0.8"/>
<line x1="227.45" y1="525.8" x2="227.45" y2="527.6" stroke="#333" stroke-width="0.8"/>
<line x1="231.09" y1="525.8" x2="231.09" y2="527.6" stroke="#333" stroke-width="0.8"/>
<line x1="234.72" y1="525.8" x2="234.72" y2="527.6" stroke="#333" stroke-width="0.8"/>
<line x1="238.36" y1="525.8" x2="238.36" y2="528.3" stroke="#333" stroke-width="0.8"/>
<text x="238.36" y="535.90" font-size="8.5" text-anchor="middle" fill="#222" textLength="4.60" lengthAdjust="spacingAndGlyphs" >2</text>
<line x1="242.00" y1="525.8" x2="242.00" y2="527.6" stroke="#333" stroke-width="0.8"/>
<line x1="245.63" y1="525.8" x2="245.63" y2="527.6" stroke="#333" stroke-width="0.8"/>
<line x1="249.27" y1="525.8" x2="249.27" y2="527.6" stroke="#333" stroke-width="0.8"/>
<line x1="252.90" y1="525.8" x2="252.90" y2="527.6" stroke="#333" stroke-width="0.8"/>
<line x1="256.54" y1="525.8" x2="256.54" y2="528.3" stroke="#333" stroke-width="0.8"/>
<text x="256.54" y="535.90" font-size="8.5" text-anchor="middle" fill="#222" textLength="4.60" lengthAdjust="spacingAndGlyphs" >3</text>
<line x1="260.18" y1="525.8" x2="260.18" y2="527.6" stroke="#333" stroke-width="0.8"/>
<line x1="263.81" y1="525.8" x2="263.81" y2="527.6" stroke="#333" stroke-width="0.8"/>
<line x1="267.45" y1="525.8" x2="267.45" y2="527.6" stroke="#333" stroke-width="0.8"/>
<line x1="271.08" y1="525.8" x2="271.08" y2="527.6" stroke="#333" stroke-width="0.8"/>
<line x1="274.72" y1="525.8" x2="274.72" y2="528.3" stroke="#333" stroke-width="0.8"/>
<text x="274.72" y="535.90" font-size="8.5" text-anchor="middle" fill="#222" textLength="4.60" lengthAdjust="spacingAndGlyphs" >4</text>
<line x1="278.36" y1="525.8" x2="278.36" y2="527.6" stroke="#333" stroke-width="0.8"/>
<line x1="281.99" y1="525.8" x2="281.99" y2="527.6" stroke="#333" stroke-width="0.8"/>
<line x1="285.63" y1="525.8" x2="285.63" y2="527.6" stroke="#333" stroke-width="0.8"/>
<line x1="289.26" y1="525.8" x2="289.26" y2="527.6" stroke="#333" stroke-width="0.8"/>
<line x1="292.90" y1="525.8" x2="292.90" y2="528.3" stroke="#333" stroke-width="0.8"/>
<text x="292.90" y="535.90" font-size="8.5" text-anchor="middle" fill="#222" textLength="4.60" lengthAdjust="spacingAndGlyphs" >5</text>
<line x1="296.54" y1="525.8" x2="296.54" y2="527.6" stroke="#333" stroke-width="0.8"/>
<line x1="300.17" y1="525.8" x2="300.17" y2="527.6" stroke="#333" stroke-width="0.8"/>
<line x1="303.81" y1="525.8" x2="303.81" y2="527.6" stroke="#333" stroke-width="0.8"/>
<line x1="307.44" y1="525.8" x2="307.44" y2="527.6" stroke="#333" stroke-width="0.8"/>
<line x1="311.08" y1="525.8" x2="311.08" y2="528.3" stroke="#333" stroke-width="0.8"/>
<text x="311.08" y="535.90" font-size="8.5" text-anchor="middle" fill="#222" textLength="4.60" lengthAdjust="spacingAndGlyphs" >6</text>
<line x1="314.72" y1="525.8" x2="314.72" y2="527.6" stroke="#333" stroke-width="0.8"/>
<line x1="318.35" y1="525.8" x2="318.35" y2="527.6" stroke="#333" stroke-width="0.8"/>
<line x1="321.99" y1="525.8" x2="321.99" y2="527.6" stroke="#333" stroke-width="0.8"/>
<line x1="325.62" y1="525.8" x2="325.62" y2="527.6" stroke="#333" stroke-width="0.8"/>
<line x1="329.26" y1="525.8" x2="329.26" y2="528.3" stroke="#333" stroke-width="0.8"/>
<text x="329.26" y="535.90" font-size="8.5" text-anchor="middle" fill="#222" textLength="4.60" lengthAdjust="spacingAndGlyphs" >7</text>
<line x1="332.90" y1="525.8" x2="332.90" y2="527.6" stroke="#333" stroke-width="0.8"/>
<line x1="336.53" y1="525.8" x2="336.53" y2="527.6" stroke="#333" stroke-width="0.8"/>
<line x1="340.17" y1="525.8" x2="340.17" y2="527.6" stroke="#333" stroke-width="0.8"/>
<line x1="343.80" y1="525.8" x2="343.80" y2="527.6" stroke="#333" stroke-width="0.8"/>
<line x1="347.44" y1="525.8" x2="347.44" y2="528.3" stroke="#333" stroke-width="0.8"/>
<text x="347.44" y="535.90" font-size="8.5" text-anchor="middle" fill="#222" textLength="4.60" lengthAdjust="spacingAndGlyphs" >8</text>
<line x1="351.08" y1="525.8" x2="351.08" y2="527.6" stroke="#333" stroke-width="0.8"/>
<line x1="354.71" y1="525.8" x2="354.71" y2="527.6" stroke="#333" stroke-width="0.8"/>
<line x1="358.35" y1="525.8" x2="358.35" y2="527.6" stroke="#333" stroke-width="0.8"/>
<line x1="361.98" y1="525.8" x2="361.98" y2="527.6" stroke="#333" stroke-width="0.8"/>
<line x1="365.62" y1="525.8" x2="365.62" y2="528.3" stroke="#333" stroke-width="0.8"/>
<text x="365.62" y="535.90" font-size="8.5" text-anchor="middle" fill="#222" textLength="4.60" lengthAdjust="spacingAndGlyphs" >9</text>
<line x1="369.26" y1="525.8" x2="369.26" y2="527.6" stroke="#333" stroke-width="0.8"/>
<line x1="372.89" y1="525.8" x2="372.89" y2="527.6" stroke="#333" stroke-width="0.8"/>
<line x1="376.53" y1="525.8" x2="376.53" y2="527.6" stroke="#333" stroke-width="0.8"/>
<line x1="380.16" y1="525.8" x2="380.16" y2="527.6" stroke="#333" stroke-width="0.8"/>
<text x="373.20" y="537.50" font-size="6.5" text-anchor="start" fill="#222" textLength="10.60" lengthAdjust="spacingAndGlyphs" >keV</text>
<text x="300.60" y="424.20" font-size="10.8" text-anchor="start" fill="#111" textLength="78.80" lengthAdjust="spacingAndGlyphs" >Cuboidal particle</text>
</svg></body></html>
